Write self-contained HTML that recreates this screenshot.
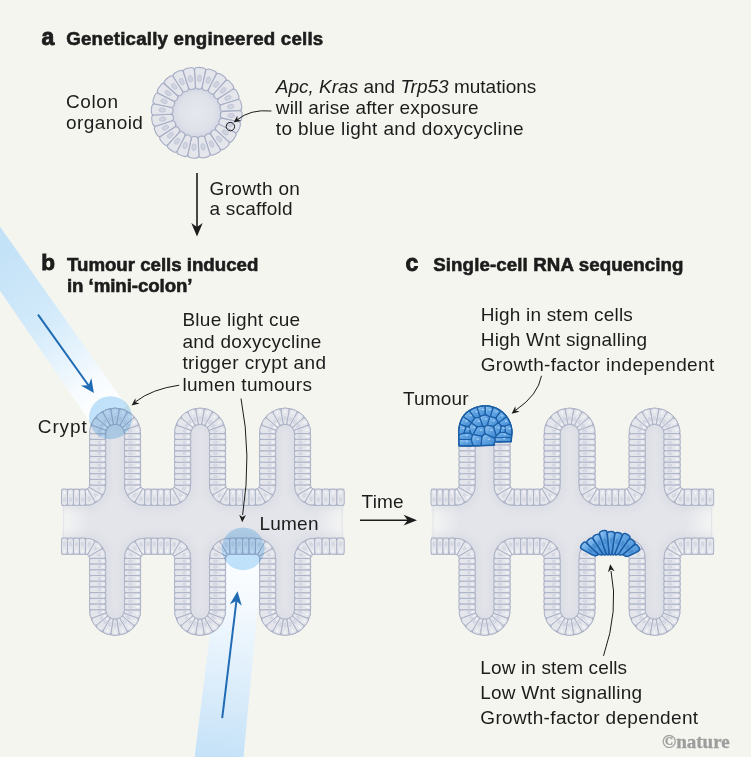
<!DOCTYPE html>
<html><head><meta charset="utf-8"><style>
html,body{margin:0;padding:0;background:#f5f5ef;font-family:"Liberation Sans", sans-serif;}
svg{display:block;}
</style></head><body>
<svg width="751" height="757" viewBox="0 0 751 757">
<defs>
<linearGradient id="lumGrad" x1="61.5" y1="0" x2="344.2" y2="0" gradientUnits="userSpaceOnUse"><stop offset="0" stop-color="#f4f4f2"/><stop offset="0.03" stop-color="#f0f1f2"/><stop offset="0.1" stop-color="#e4e5eb"/><stop offset="0.9" stop-color="#e4e5eb"/><stop offset="0.97" stop-color="#f0f1f2"/><stop offset="1" stop-color="#f4f4f2"/></linearGradient>
<clipPath id="lumClip"><path d="M61.5 497.3 L62.7 497.3 L63.89 497.3 L65.09 497.3 L66.29 497.3 L67.49 497.3 L68.69 497.3 L69.88 497.3 L71.08 497.3 L72.28 497.3 L73.47 497.3 L74.67 497.3 L75.87 497.3 L77.07 497.3 L78.26 497.3 L79.46 497.3 L80.66 497.3 L81.86 497.3 L83.05 497.3 L84.25 497.3 L85.45 497.3 L85.45 497.3 L86.41 497.26 L87.36 497.15 L88.3 496.96 L89.22 496.7 L90.12 496.37 L90.99 495.97 L91.82 495.5 L92.62 494.97 L93.37 494.38 L94.08 493.73 L94.73 493.02 L95.32 492.27 L95.85 491.47 L96.32 490.64 L96.72 489.77 L97.05 488.87 L97.31 487.95 L97.5 487.01 L97.61 486.06 L97.65 485.1 L97.65 485.1 L97.65 482.53 L97.65 479.96 L97.65 477.38 L97.65 474.81 L97.65 472.24 L97.65 469.67 L97.65 467.09 L97.65 464.52 L97.65 461.95 L97.65 459.38 L97.65 456.8 L97.65 454.23 L97.65 451.66 L97.65 449.08 L97.65 446.51 L97.65 443.94 L97.65 441.37 L97.65 438.79 L97.65 436.22 L97.65 433.65 L97.65 433.65 L97.86 430.92 L98.5 428.26 L99.55 425.73 L100.98 423.39 L102.76 421.31 L104.84 419.53 L107.18 418.1 L109.71 417.05 L112.37 416.41 L115.1 416.2 L117.83 416.41 L120.49 417.05 L123.02 418.1 L125.36 419.53 L127.44 421.31 L129.22 423.39 L130.65 425.73 L131.7 428.26 L132.34 430.92 L132.55 433.65 L132.55 433.65 L132.55 436.22 L132.55 438.79 L132.55 441.37 L132.55 443.94 L132.55 446.51 L132.55 449.08 L132.55 451.66 L132.55 454.23 L132.55 456.8 L132.55 459.38 L132.55 461.95 L132.55 464.52 L132.55 467.09 L132.55 469.67 L132.55 472.24 L132.55 474.81 L132.55 477.38 L132.55 479.96 L132.55 482.53 L132.55 485.1 L132.55 485.1 L132.59 486.06 L132.7 487.01 L132.89 487.95 L133.15 488.87 L133.48 489.77 L133.88 490.64 L134.35 491.47 L134.88 492.27 L135.47 493.02 L136.12 493.73 L136.83 494.38 L137.58 494.97 L138.38 495.5 L139.21 495.97 L140.08 496.37 L140.98 496.7 L141.9 496.96 L142.84 497.15 L143.79 497.26 L144.75 497.3 L144.75 497.3 L146.03 497.3 L147.32 497.3 L148.6 497.3 L149.89 497.3 L151.17 497.3 L152.46 497.3 L153.74 497.3 L155.03 497.3 L156.31 497.3 L157.6 497.3 L158.88 497.3 L160.17 497.3 L161.46 497.3 L162.74 497.3 L164.03 497.3 L165.31 497.3 L166.59 497.3 L167.88 497.3 L169.17 497.3 L170.45 497.3 L170.45 497.3 L171.41 497.26 L172.36 497.15 L173.3 496.96 L174.22 496.7 L175.12 496.37 L175.99 495.97 L176.82 495.5 L177.62 494.97 L178.37 494.38 L179.08 493.73 L179.73 493.02 L180.32 492.27 L180.85 491.47 L181.32 490.64 L181.72 489.77 L182.05 488.87 L182.31 487.95 L182.5 487.01 L182.61 486.06 L182.65 485.1 L182.65 485.1 L182.65 482.53 L182.65 479.96 L182.65 477.38 L182.65 474.81 L182.65 472.24 L182.65 469.67 L182.65 467.09 L182.65 464.52 L182.65 461.95 L182.65 459.38 L182.65 456.8 L182.65 454.23 L182.65 451.66 L182.65 449.08 L182.65 446.51 L182.65 443.94 L182.65 441.37 L182.65 438.79 L182.65 436.22 L182.65 433.65 L182.65 433.65 L182.86 430.92 L183.5 428.26 L184.55 425.73 L185.98 423.39 L187.76 421.31 L189.84 419.53 L192.18 418.1 L194.71 417.05 L197.37 416.41 L200.1 416.2 L202.83 416.41 L205.49 417.05 L208.02 418.1 L210.36 419.53 L212.44 421.31 L214.22 423.39 L215.65 425.73 L216.7 428.26 L217.34 430.92 L217.55 433.65 L217.55 433.65 L217.55 436.22 L217.55 438.79 L217.55 441.37 L217.55 443.94 L217.55 446.51 L217.55 449.08 L217.55 451.66 L217.55 454.23 L217.55 456.8 L217.55 459.38 L217.55 461.95 L217.55 464.52 L217.55 467.09 L217.55 469.67 L217.55 472.24 L217.55 474.81 L217.55 477.38 L217.55 479.96 L217.55 482.53 L217.55 485.1 L217.55 485.1 L217.59 486.06 L217.7 487.01 L217.89 487.95 L218.15 488.87 L218.48 489.77 L218.88 490.64 L219.35 491.47 L219.88 492.27 L220.47 493.02 L221.12 493.73 L221.83 494.38 L222.58 494.97 L223.38 495.5 L224.21 495.97 L225.08 496.37 L225.98 496.7 L226.9 496.96 L227.84 497.15 L228.79 497.26 L229.75 497.3 L229.75 497.3 L231.03 497.3 L232.32 497.3 L233.6 497.3 L234.89 497.3 L236.17 497.3 L237.46 497.3 L238.75 497.3 L240.03 497.3 L241.31 497.3 L242.6 497.3 L243.89 497.3 L245.17 497.3 L246.46 497.3 L247.74 497.3 L249.03 497.3 L250.31 497.3 L251.6 497.3 L252.88 497.3 L254.17 497.3 L255.45 497.3 L255.45 497.3 L256.41 497.26 L257.36 497.15 L258.3 496.96 L259.22 496.7 L260.12 496.37 L260.99 495.97 L261.82 495.5 L262.62 494.97 L263.37 494.38 L264.08 493.73 L264.73 493.02 L265.32 492.27 L265.85 491.47 L266.32 490.64 L266.72 489.77 L267.05 488.87 L267.31 487.95 L267.5 487.01 L267.61 486.06 L267.65 485.1 L267.65 485.1 L267.65 482.53 L267.65 479.96 L267.65 477.38 L267.65 474.81 L267.65 472.24 L267.65 469.67 L267.65 467.09 L267.65 464.52 L267.65 461.95 L267.65 459.38 L267.65 456.8 L267.65 454.23 L267.65 451.66 L267.65 449.08 L267.65 446.51 L267.65 443.94 L267.65 441.37 L267.65 438.79 L267.65 436.22 L267.65 433.65 L267.65 433.65 L267.86 430.92 L268.5 428.26 L269.55 425.73 L270.98 423.39 L272.76 421.31 L274.84 419.53 L277.18 418.1 L279.71 417.05 L282.37 416.41 L285.1 416.2 L287.83 416.41 L290.49 417.05 L293.02 418.1 L295.36 419.53 L297.44 421.31 L299.22 423.39 L300.65 425.73 L301.7 428.26 L302.34 430.92 L302.55 433.65 L302.55 433.65 L302.55 436.22 L302.55 438.79 L302.55 441.37 L302.55 443.94 L302.55 446.51 L302.55 449.08 L302.55 451.66 L302.55 454.23 L302.55 456.8 L302.55 459.38 L302.55 461.95 L302.55 464.52 L302.55 467.09 L302.55 469.67 L302.55 472.24 L302.55 474.81 L302.55 477.38 L302.55 479.96 L302.55 482.53 L302.55 485.1 L302.55 485.1 L302.59 486.06 L302.7 487.01 L302.89 487.95 L303.15 488.87 L303.48 489.77 L303.88 490.64 L304.35 491.47 L304.88 492.27 L305.47 493.02 L306.12 493.73 L306.83 494.38 L307.58 494.97 L308.38 495.5 L309.21 495.97 L310.08 496.37 L310.98 496.7 L311.9 496.96 L312.84 497.15 L313.79 497.26 L314.75 497.3 L314.75 497.3 L316.22 497.3 L317.69 497.3 L319.17 497.3 L320.64 497.3 L322.11 497.3 L323.58 497.3 L325.06 497.3 L326.53 497.3 L328 497.3 L329.48 497.3 L330.95 497.3 L332.42 497.3 L333.89 497.3 L335.37 497.3 L336.84 497.3 L338.31 497.3 L339.78 497.3 L341.25 497.3 L342.73 497.3 L344.2 497.3 L344.2 546.2 L342.73 546.2 L341.25 546.2 L339.78 546.2 L338.31 546.2 L336.84 546.2 L335.37 546.2 L333.89 546.2 L332.42 546.2 L330.95 546.2 L329.48 546.2 L328 546.2 L326.53 546.2 L325.06 546.2 L323.58 546.2 L322.11 546.2 L320.64 546.2 L319.17 546.2 L317.69 546.2 L316.22 546.2 L314.75 546.2 L314.75 546.2 L313.79 546.24 L312.84 546.35 L311.9 546.54 L310.98 546.8 L310.08 547.13 L309.21 547.53 L308.38 548 L307.58 548.53 L306.83 549.12 L306.12 549.77 L305.47 550.48 L304.88 551.23 L304.35 552.03 L303.88 552.86 L303.48 553.73 L303.15 554.63 L302.89 555.55 L302.7 556.49 L302.59 557.44 L302.55 558.4 L302.55 558.4 L302.55 560.97 L302.55 563.54 L302.55 566.12 L302.55 568.69 L302.55 571.26 L302.55 573.84 L302.55 576.41 L302.55 578.98 L302.55 581.55 L302.55 584.12 L302.55 586.7 L302.55 589.27 L302.55 591.84 L302.55 594.41 L302.55 596.99 L302.55 599.56 L302.55 602.13 L302.55 604.71 L302.55 607.28 L302.55 609.85 L302.55 609.85 L302.34 612.58 L301.7 615.24 L300.65 617.77 L299.22 620.11 L297.44 622.19 L295.36 623.97 L293.02 625.4 L290.49 626.45 L287.83 627.09 L285.1 627.3 L282.37 627.09 L279.71 626.45 L277.18 625.4 L274.84 623.97 L272.76 622.19 L270.98 620.11 L269.55 617.77 L268.5 615.24 L267.86 612.58 L267.65 609.85 L267.65 609.85 L267.65 607.28 L267.65 604.71 L267.65 602.13 L267.65 599.56 L267.65 596.99 L267.65 594.41 L267.65 591.84 L267.65 589.27 L267.65 586.7 L267.65 584.12 L267.65 581.55 L267.65 578.98 L267.65 576.41 L267.65 573.84 L267.65 571.26 L267.65 568.69 L267.65 566.12 L267.65 563.54 L267.65 560.97 L267.65 558.4 L267.65 558.4 L267.61 557.44 L267.5 556.49 L267.31 555.55 L267.05 554.63 L266.72 553.73 L266.32 552.86 L265.85 552.03 L265.32 551.23 L264.73 550.48 L264.08 549.77 L263.37 549.12 L262.62 548.53 L261.82 548 L260.99 547.53 L260.12 547.13 L259.22 546.8 L258.3 546.54 L257.36 546.35 L256.41 546.24 L255.45 546.2 L255.45 546.2 L254.17 546.2 L252.88 546.2 L251.6 546.2 L250.31 546.2 L249.03 546.2 L247.74 546.2 L246.46 546.2 L245.17 546.2 L243.89 546.2 L242.6 546.2 L241.31 546.2 L240.03 546.2 L238.75 546.2 L237.46 546.2 L236.17 546.2 L234.89 546.2 L233.6 546.2 L232.32 546.2 L231.03 546.2 L229.75 546.2 L229.75 546.2 L228.79 546.24 L227.84 546.35 L226.9 546.54 L225.98 546.8 L225.08 547.13 L224.21 547.53 L223.38 548 L222.58 548.53 L221.83 549.12 L221.12 549.77 L220.47 550.48 L219.88 551.23 L219.35 552.03 L218.88 552.86 L218.48 553.73 L218.15 554.63 L217.89 555.55 L217.7 556.49 L217.59 557.44 L217.55 558.4 L217.55 558.4 L217.55 560.97 L217.55 563.54 L217.55 566.12 L217.55 568.69 L217.55 571.26 L217.55 573.84 L217.55 576.41 L217.55 578.98 L217.55 581.55 L217.55 584.12 L217.55 586.7 L217.55 589.27 L217.55 591.84 L217.55 594.41 L217.55 596.99 L217.55 599.56 L217.55 602.13 L217.55 604.71 L217.55 607.28 L217.55 609.85 L217.55 609.85 L217.34 612.58 L216.7 615.24 L215.65 617.77 L214.22 620.11 L212.44 622.19 L210.36 623.97 L208.02 625.4 L205.49 626.45 L202.83 627.09 L200.1 627.3 L197.37 627.09 L194.71 626.45 L192.18 625.4 L189.84 623.97 L187.76 622.19 L185.98 620.11 L184.55 617.77 L183.5 615.24 L182.86 612.58 L182.65 609.85 L182.65 609.85 L182.65 607.28 L182.65 604.71 L182.65 602.13 L182.65 599.56 L182.65 596.99 L182.65 594.41 L182.65 591.84 L182.65 589.27 L182.65 586.7 L182.65 584.12 L182.65 581.55 L182.65 578.98 L182.65 576.41 L182.65 573.84 L182.65 571.26 L182.65 568.69 L182.65 566.12 L182.65 563.54 L182.65 560.97 L182.65 558.4 L182.65 558.4 L182.61 557.44 L182.5 556.49 L182.31 555.55 L182.05 554.63 L181.72 553.73 L181.32 552.86 L180.85 552.03 L180.32 551.23 L179.73 550.48 L179.08 549.77 L178.37 549.12 L177.62 548.53 L176.82 548 L175.99 547.53 L175.12 547.13 L174.22 546.8 L173.3 546.54 L172.36 546.35 L171.41 546.24 L170.45 546.2 L170.45 546.2 L169.17 546.2 L167.88 546.2 L166.59 546.2 L165.31 546.2 L164.03 546.2 L162.74 546.2 L161.46 546.2 L160.17 546.2 L158.88 546.2 L157.6 546.2 L156.31 546.2 L155.03 546.2 L153.74 546.2 L152.46 546.2 L151.17 546.2 L149.89 546.2 L148.6 546.2 L147.32 546.2 L146.03 546.2 L144.75 546.2 L144.75 546.2 L143.79 546.24 L142.84 546.35 L141.9 546.54 L140.98 546.8 L140.08 547.13 L139.21 547.53 L138.38 548 L137.58 548.53 L136.83 549.12 L136.12 549.77 L135.47 550.48 L134.88 551.23 L134.35 552.03 L133.88 552.86 L133.48 553.73 L133.15 554.63 L132.89 555.55 L132.7 556.49 L132.59 557.44 L132.55 558.4 L132.55 558.4 L132.55 560.97 L132.55 563.54 L132.55 566.12 L132.55 568.69 L132.55 571.26 L132.55 573.84 L132.55 576.41 L132.55 578.98 L132.55 581.55 L132.55 584.12 L132.55 586.7 L132.55 589.27 L132.55 591.84 L132.55 594.41 L132.55 596.99 L132.55 599.56 L132.55 602.13 L132.55 604.71 L132.55 607.28 L132.55 609.85 L132.55 609.85 L132.34 612.58 L131.7 615.24 L130.65 617.77 L129.22 620.11 L127.44 622.19 L125.36 623.97 L123.02 625.4 L120.49 626.45 L117.83 627.09 L115.1 627.3 L112.37 627.09 L109.71 626.45 L107.18 625.4 L104.84 623.97 L102.76 622.19 L100.98 620.11 L99.55 617.77 L98.5 615.24 L97.86 612.58 L97.65 609.85 L97.65 609.85 L97.65 607.28 L97.65 604.71 L97.65 602.13 L97.65 599.56 L97.65 596.99 L97.65 594.41 L97.65 591.84 L97.65 589.27 L97.65 586.7 L97.65 584.12 L97.65 581.55 L97.65 578.98 L97.65 576.41 L97.65 573.84 L97.65 571.26 L97.65 568.69 L97.65 566.12 L97.65 563.54 L97.65 560.97 L97.65 558.4 L97.65 558.4 L97.61 557.44 L97.5 556.49 L97.31 555.55 L97.05 554.63 L96.72 553.73 L96.32 552.86 L95.85 552.03 L95.32 551.23 L94.73 550.48 L94.08 549.77 L93.37 549.12 L92.62 548.53 L91.82 548 L90.99 547.53 L90.12 547.13 L89.22 546.8 L88.3 546.54 L87.36 546.35 L86.41 546.24 L85.45 546.2 L85.45 546.2 L84.25 546.2 L83.05 546.2 L81.86 546.2 L80.66 546.2 L79.46 546.2 L78.26 546.2 L77.07 546.2 L75.87 546.2 L74.67 546.2 L73.47 546.2 L72.28 546.2 L71.08 546.2 L69.88 546.2 L68.69 546.2 L67.49 546.2 L66.29 546.2 L65.09 546.2 L63.89 546.2 L62.7 546.2 L61.5 546.2Z"/></clipPath>
<filter id="blur3" x="-10%%" y="-10%%" width="120%%" height="120%%"><feGaussianBlur stdDeviation="3"/></filter>
<radialGradient id="orgLumen"><stop offset="0" stop-color="#e6e8ef"/><stop offset="0.7" stop-color="#e0e2ea"/><stop offset="1" stop-color="#d3d7e3"/></radialGradient>
<linearGradient id="beam1" x1="110.5" y1="417.7" x2="0" y2="258" gradientUnits="userSpaceOnUse"><stop offset="0" stop-color="#ffffff"/><stop offset="0.2" stop-color="#f7fbfe"/><stop offset="0.36" stop-color="#e8f4fd"/><stop offset="0.62" stop-color="#d2eafa"/><stop offset="1" stop-color="#c4e2f7"/></linearGradient>
<linearGradient id="beam2" x1="243" y1="548.6" x2="220" y2="757" gradientUnits="userSpaceOnUse"><stop offset="0" stop-color="#fdfeff"/><stop offset="0.25" stop-color="#f5fafe"/><stop offset="0.45" stop-color="#e9f4fd"/><stop offset="0.72" stop-color="#d8ebfa"/><stop offset="1" stop-color="#c5e2f8"/></linearGradient>
<g id="colTop"><g><path d="M61.5 497.3 L85.45 497.3 A12.2 12.2 0 0 0 97.65 485.1 L97.65 433.65 A17.45 17.45 0 0 1 132.55 433.65 L132.55 485.1 A12.2 12.2 0 0 0 144.75 497.3 L170.45 497.3 A12.2 12.2 0 0 0 182.65 485.1 L182.65 433.65 A17.45 17.45 0 0 1 217.55 433.65 L217.55 485.1 A12.2 12.2 0 0 0 229.75 497.3 L255.45 497.3 A12.2 12.2 0 0 0 267.65 485.1 L267.65 433.65 A17.45 17.45 0 0 1 302.55 433.65 L302.55 485.1 A12.2 12.2 0 0 0 314.75 497.3 L344.2 497.3" fill="none" stroke="#a8afc4" stroke-width="16.9"/><g fill="#e4e6ec" stroke="#adb3c7" stroke-width="1.0"><path d="M61.5 503.1Q61.5 505.1 62.86 505.33L63.13 505.37Q64.49 505.6 65.85 505.37L66.13 505.33Q67.49 505.1 67.49 503.1L67.49 491.5Q67.49 489.5 66.13 489.27L65.85 489.23Q64.49 489 63.13 489.23L62.86 489.27Q61.5 489.5 61.5 491.5Z"/><path d="M67.49 503.1Q67.49 505.1 68.85 505.33L69.12 505.37Q70.48 505.6 71.84 505.37L72.11 505.33Q73.47 505.1 73.47 503.1L73.47 491.5Q73.47 489.5 72.11 489.27L71.84 489.23Q70.48 489 69.12 489.23L68.85 489.27Q67.49 489.5 67.49 491.5Z"/><path d="M73.47 503.1Q73.47 505.1 74.84 505.33L75.11 505.37Q76.47 505.6 77.83 505.37L78.1 505.33Q79.46 505.1 79.46 503.1L79.46 491.5Q79.46 489.5 78.1 489.27L77.83 489.23Q76.47 489 75.11 489.23L74.84 489.27Q73.47 489.5 73.47 491.5Z"/><path d="M79.46 503.1Q79.46 505.1 80.82 505.33L81.1 505.37Q82.46 505.6 83.82 505.37L84.09 505.33Q85.45 505.1 85.45 503.1L85.45 491.5Q85.45 489.5 84.09 489.27L83.82 489.23Q82.46 489 81.1 489.23L80.82 489.27Q79.46 489.5 79.46 491.5Z"/><path d="M85.45 503.1Q85.45 505.1 87.45 505.03L88.76 504.98Q90.76 504.9 92.52 503.97L93.68 503.36Q95.45 502.42 94.45 500.69L88.65 490.64Q87.65 488.91 87.11 488.89L87 488.89Q86.46 488.87 86 489.15L85.91 489.21Q85.45 489.5 85.45 491.5Z"/><path d="M94.45 500.69Q95.45 502.42 97.14 501.36L98.25 500.66Q99.95 499.6 101.01 497.9L101.71 496.79Q102.77 495.1 101.04 494.1L90.99 488.3Q89.26 487.3 88.78 487.55L88.69 487.6Q88.21 487.86 87.95 488.34L87.9 488.43Q87.65 488.91 88.65 490.64Z"/><path d="M101.04 494.1Q102.77 495.1 103.71 493.33L104.32 492.17Q105.25 490.41 105.33 488.41L105.38 487.1Q105.45 485.1 103.45 485.1L91.85 485.1Q89.85 485.1 89.56 485.56L89.5 485.65Q89.22 486.11 89.24 486.65L89.24 486.76Q89.26 487.3 90.99 488.3Z"/><path d="M103.45 485.1Q105.45 485.1 105.68 483.8L105.72 483.54Q105.95 482.24 105.72 480.94L105.68 480.68Q105.45 479.38 103.45 479.38L91.85 479.38Q89.85 479.38 89.62 480.68L89.58 480.94Q89.35 482.24 89.58 483.54L89.62 483.8Q89.85 485.1 91.85 485.1Z"/><path d="M103.45 479.38Q105.45 479.38 105.68 478.08L105.72 477.82Q105.95 476.53 105.72 475.23L105.68 474.97Q105.45 473.67 103.45 473.67L91.85 473.67Q89.85 473.67 89.62 474.97L89.58 475.23Q89.35 476.53 89.58 477.82L89.62 478.08Q89.85 479.38 91.85 479.38Z"/><path d="M103.45 473.67Q105.45 473.67 105.68 472.37L105.72 472.11Q105.95 470.81 105.72 469.51L105.68 469.25Q105.45 467.95 103.45 467.95L91.85 467.95Q89.85 467.95 89.62 469.25L89.58 469.51Q89.35 470.81 89.58 472.11L89.62 472.37Q89.85 473.67 91.85 473.67Z"/><path d="M103.45 467.95Q105.45 467.95 105.68 466.65L105.72 466.39Q105.95 465.09 105.72 463.79L105.68 463.53Q105.45 462.23 103.45 462.23L91.85 462.23Q89.85 462.23 89.62 463.53L89.58 463.79Q89.35 465.09 89.58 466.39L89.62 466.65Q89.85 467.95 91.85 467.95Z"/><path d="M103.45 462.23Q105.45 462.23 105.68 460.93L105.72 460.67Q105.95 459.38 105.72 458.08L105.68 457.82Q105.45 456.52 103.45 456.52L91.85 456.52Q89.85 456.52 89.62 457.82L89.58 458.08Q89.35 459.38 89.58 460.67L89.62 460.93Q89.85 462.23 91.85 462.23Z"/><path d="M103.45 456.52Q105.45 456.52 105.68 455.22L105.72 454.96Q105.95 453.66 105.72 452.36L105.68 452.1Q105.45 450.8 103.45 450.8L91.85 450.8Q89.85 450.8 89.62 452.1L89.58 452.36Q89.35 453.66 89.58 454.96L89.62 455.22Q89.85 456.52 91.85 456.52Z"/><path d="M103.45 450.8Q105.45 450.8 105.68 449.5L105.72 449.24Q105.95 447.94 105.72 446.64L105.68 446.38Q105.45 445.08 103.45 445.08L91.85 445.08Q89.85 445.08 89.62 446.38L89.58 446.64Q89.35 447.94 89.58 449.24L89.62 449.5Q89.85 450.8 91.85 450.8Z"/><path d="M103.45 445.08Q105.45 445.08 105.68 443.78L105.72 443.52Q105.95 442.22 105.72 440.93L105.68 440.67Q105.45 439.37 103.45 439.37L91.85 439.37Q89.85 439.37 89.62 440.67L89.58 440.93Q89.35 442.22 89.58 443.52L89.62 443.78Q89.85 445.08 91.85 445.08Z"/><path d="M103.45 439.37Q105.45 439.37 105.68 438.07L105.72 437.81Q105.95 436.51 105.72 435.21L105.68 434.95Q105.45 433.65 103.45 433.65L91.85 433.65Q89.85 433.65 89.62 434.95L89.58 435.21Q89.35 436.51 89.58 437.81L89.62 438.07Q89.85 439.37 91.85 439.37Z"/><path d="M103.45 433.65Q105.45 433.65 105.74 432.93L105.8 432.78Q106.09 432.06 106.06 431.28L106.06 431.13Q106.03 430.35 104.15 429.67L93.25 425.7Q91.37 425.01 90.64 426.88L90.47 427.32Q89.74 429.18 89.79 431.18L89.8 431.65Q89.85 433.65 91.85 433.65Z"/><path d="M104.15 429.67Q106.03 430.35 106.55 429.77L106.66 429.65Q107.18 429.07 107.42 428.34L107.47 428.19Q107.71 427.45 106.18 426.16L97.29 418.71Q95.76 417.42 94.43 418.92L94.12 419.27Q92.8 420.77 92.16 422.67L92.01 423.12Q91.37 425.01 93.25 425.7Z"/><path d="M106.18 426.16Q107.71 427.45 108.39 427.08L108.53 427.01Q109.22 426.64 109.7 426.03L109.79 425.91Q110.27 425.29 109.27 423.56L103.47 413.51Q102.47 411.78 100.72 412.74L100.3 412.97Q98.55 413.92 97.3 415.49L97.01 415.86Q95.76 417.42 97.29 418.71Z"/><path d="M109.27 423.56Q110.27 425.29 111.05 425.18L111.2 425.16Q111.97 425.05 112.63 424.64L112.76 424.56Q113.42 424.15 113.08 422.18L111.06 410.75Q110.72 408.78 108.74 409.08L108.27 409.15Q106.29 409.45 104.59 410.49L104.18 410.74Q102.47 411.78 103.47 413.51Z"/><path d="M113.08 422.18Q113.42 424.15 114.19 424.31L114.34 424.34Q115.1 424.5 115.86 424.34L116.01 424.31Q116.78 424.15 117.12 422.18L119.14 410.75Q119.48 408.78 117.52 408.39L117.06 408.3Q115.1 407.9 113.14 408.3L112.68 408.39Q110.72 408.78 111.06 410.75Z"/><path d="M117.12 422.18Q116.78 424.15 117.44 424.56L117.57 424.64Q118.23 425.05 119 425.16L119.15 425.18Q119.92 425.29 120.92 423.56L126.72 413.51Q127.72 411.78 126.02 410.74L125.61 410.49Q123.91 409.45 121.93 409.15L121.46 409.08Q119.48 408.78 119.14 410.75Z"/><path d="M120.92 423.56Q119.92 425.29 120.41 425.91L120.5 426.03Q120.98 426.64 121.67 427.01L121.81 427.08Q122.49 427.45 124.02 426.16L132.91 418.71Q134.44 417.42 133.19 415.86L132.9 415.49Q131.65 413.92 129.9 412.97L129.48 412.74Q127.72 411.78 126.72 413.51Z"/><path d="M124.02 426.16Q122.49 427.45 122.73 428.19L122.78 428.34Q123.02 429.07 123.54 429.65L123.65 429.77Q124.17 430.35 126.05 429.67L136.95 425.7Q138.83 425.01 138.19 423.12L138.04 422.67Q137.4 420.77 136.08 419.27L135.77 418.92Q134.44 417.42 132.91 418.71Z"/><path d="M126.05 429.67Q124.17 430.35 124.14 431.13L124.14 431.28Q124.11 432.06 124.4 432.78L124.46 432.93Q124.75 433.65 126.75 433.65L138.35 433.65Q140.35 433.65 140.4 431.65L140.41 431.18Q140.46 429.18 139.73 427.32L139.56 426.88Q138.83 425.01 136.95 425.7Z"/><path d="M126.75 433.65Q124.75 433.65 124.52 434.95L124.48 435.21Q124.25 436.51 124.48 437.81L124.52 438.07Q124.75 439.37 126.75 439.37L138.35 439.37Q140.35 439.37 140.58 438.07L140.62 437.81Q140.85 436.51 140.62 435.21L140.58 434.95Q140.35 433.65 138.35 433.65Z"/><path d="M126.75 439.37Q124.75 439.37 124.52 440.67L124.48 440.93Q124.25 442.22 124.48 443.52L124.52 443.78Q124.75 445.08 126.75 445.08L138.35 445.08Q140.35 445.08 140.58 443.78L140.62 443.52Q140.85 442.22 140.62 440.93L140.58 440.67Q140.35 439.37 138.35 439.37Z"/><path d="M126.75 445.08Q124.75 445.08 124.52 446.38L124.48 446.64Q124.25 447.94 124.48 449.24L124.52 449.5Q124.75 450.8 126.75 450.8L138.35 450.8Q140.35 450.8 140.58 449.5L140.62 449.24Q140.85 447.94 140.62 446.64L140.58 446.38Q140.35 445.08 138.35 445.08Z"/><path d="M126.75 450.8Q124.75 450.8 124.52 452.1L124.48 452.36Q124.25 453.66 124.48 454.96L124.52 455.22Q124.75 456.52 126.75 456.52L138.35 456.52Q140.35 456.52 140.58 455.22L140.62 454.96Q140.85 453.66 140.62 452.36L140.58 452.1Q140.35 450.8 138.35 450.8Z"/><path d="M126.75 456.52Q124.75 456.52 124.52 457.82L124.48 458.08Q124.25 459.38 124.48 460.67L124.52 460.93Q124.75 462.23 126.75 462.23L138.35 462.23Q140.35 462.23 140.58 460.93L140.62 460.67Q140.85 459.38 140.62 458.08L140.58 457.82Q140.35 456.52 138.35 456.52Z"/><path d="M126.75 462.23Q124.75 462.23 124.52 463.53L124.48 463.79Q124.25 465.09 124.48 466.39L124.52 466.65Q124.75 467.95 126.75 467.95L138.35 467.95Q140.35 467.95 140.58 466.65L140.62 466.39Q140.85 465.09 140.62 463.79L140.58 463.53Q140.35 462.23 138.35 462.23Z"/><path d="M126.75 467.95Q124.75 467.95 124.52 469.25L124.48 469.51Q124.25 470.81 124.48 472.11L124.52 472.37Q124.75 473.67 126.75 473.67L138.35 473.67Q140.35 473.67 140.58 472.37L140.62 472.11Q140.85 470.81 140.62 469.51L140.58 469.25Q140.35 467.95 138.35 467.95Z"/><path d="M126.75 473.67Q124.75 473.67 124.52 474.97L124.48 475.23Q124.25 476.53 124.48 477.82L124.52 478.08Q124.75 479.38 126.75 479.38L138.35 479.38Q140.35 479.38 140.58 478.08L140.62 477.82Q140.85 476.53 140.62 475.23L140.58 474.97Q140.35 473.67 138.35 473.67Z"/><path d="M126.75 479.38Q124.75 479.38 124.52 480.68L124.48 480.94Q124.25 482.24 124.48 483.54L124.52 483.8Q124.75 485.1 126.75 485.1L138.35 485.1Q140.35 485.1 140.58 483.8L140.62 483.54Q140.85 482.24 140.62 480.94L140.58 480.68Q140.35 479.38 138.35 479.38Z"/><path d="M126.75 485.1Q124.75 485.1 124.82 487.1L124.87 488.41Q124.95 490.41 125.88 492.17L126.49 493.33Q127.43 495.1 129.16 494.1L139.21 488.3Q140.94 487.3 140.96 486.76L140.96 486.65Q140.98 486.11 140.7 485.65L140.64 485.56Q140.35 485.1 138.35 485.1Z"/><path d="M129.16 494.1Q127.43 495.1 128.49 496.79L129.19 497.9Q130.25 499.6 131.95 500.66L133.06 501.36Q134.75 502.42 135.75 500.69L141.55 490.64Q142.55 488.91 142.3 488.43L142.25 488.34Q141.99 487.86 141.51 487.6L141.42 487.55Q140.94 487.3 139.21 488.3Z"/><path d="M135.75 500.69Q134.75 502.42 136.52 503.36L137.68 503.97Q139.44 504.9 141.44 504.98L142.75 505.03Q144.75 505.1 144.75 503.1L144.75 491.5Q144.75 489.5 144.29 489.21L144.2 489.15Q143.74 488.87 143.2 488.89L143.09 488.89Q142.55 488.91 141.55 490.64Z"/><path d="M144.75 503.1Q144.75 505.1 146.21 505.33L146.5 505.37Q147.96 505.6 149.42 505.37L149.71 505.33Q151.17 505.1 151.17 503.1L151.17 491.5Q151.17 489.5 149.71 489.27L149.42 489.23Q147.96 489 146.5 489.23L146.21 489.27Q144.75 489.5 144.75 491.5Z"/><path d="M151.17 503.1Q151.17 505.1 152.64 505.33L152.93 505.37Q154.39 505.6 155.85 505.37L156.14 505.33Q157.6 505.1 157.6 503.1L157.6 491.5Q157.6 489.5 156.14 489.27L155.85 489.23Q154.39 489 152.93 489.23L152.64 489.27Q151.17 489.5 151.17 491.5Z"/><path d="M157.6 503.1Q157.6 505.1 159.06 505.33L159.35 505.37Q160.81 505.6 162.27 505.37L162.56 505.33Q164.03 505.1 164.03 503.1L164.03 491.5Q164.03 489.5 162.56 489.27L162.27 489.23Q160.81 489 159.35 489.23L159.06 489.27Q157.6 489.5 157.6 491.5Z"/><path d="M164.03 503.1Q164.03 505.1 165.49 505.33L165.78 505.37Q167.24 505.6 168.7 505.37L168.99 505.33Q170.45 505.1 170.45 503.1L170.45 491.5Q170.45 489.5 168.99 489.27L168.7 489.23Q167.24 489 165.78 489.23L165.49 489.27Q164.03 489.5 164.03 491.5Z"/><path d="M170.45 503.1Q170.45 505.1 172.45 505.03L173.76 504.98Q175.76 504.9 177.52 503.97L178.68 503.36Q180.45 502.42 179.45 500.69L173.65 490.64Q172.65 488.91 172.11 488.89L172 488.89Q171.46 488.87 171 489.15L170.91 489.21Q170.45 489.5 170.45 491.5Z"/><path d="M179.45 500.69Q180.45 502.42 182.14 501.36L183.25 500.66Q184.95 499.6 186.01 497.9L186.71 496.79Q187.77 495.1 186.04 494.1L175.99 488.3Q174.26 487.3 173.78 487.55L173.69 487.6Q173.21 487.86 172.95 488.34L172.9 488.43Q172.65 488.91 173.65 490.64Z"/><path d="M186.04 494.1Q187.77 495.1 188.71 493.33L189.32 492.17Q190.25 490.41 190.33 488.41L190.38 487.1Q190.45 485.1 188.45 485.1L176.85 485.1Q174.85 485.1 174.56 485.56L174.5 485.65Q174.22 486.11 174.24 486.65L174.24 486.76Q174.26 487.3 175.99 488.3Z"/><path d="M188.45 485.1Q190.45 485.1 190.68 483.8L190.72 483.54Q190.95 482.24 190.72 480.94L190.68 480.68Q190.45 479.38 188.45 479.38L176.85 479.38Q174.85 479.38 174.62 480.68L174.58 480.94Q174.35 482.24 174.58 483.54L174.62 483.8Q174.85 485.1 176.85 485.1Z"/><path d="M188.45 479.38Q190.45 479.38 190.68 478.08L190.72 477.82Q190.95 476.53 190.72 475.23L190.68 474.97Q190.45 473.67 188.45 473.67L176.85 473.67Q174.85 473.67 174.62 474.97L174.58 475.23Q174.35 476.53 174.58 477.82L174.62 478.08Q174.85 479.38 176.85 479.38Z"/><path d="M188.45 473.67Q190.45 473.67 190.68 472.37L190.72 472.11Q190.95 470.81 190.72 469.51L190.68 469.25Q190.45 467.95 188.45 467.95L176.85 467.95Q174.85 467.95 174.62 469.25L174.58 469.51Q174.35 470.81 174.58 472.11L174.62 472.37Q174.85 473.67 176.85 473.67Z"/><path d="M188.45 467.95Q190.45 467.95 190.68 466.65L190.72 466.39Q190.95 465.09 190.72 463.79L190.68 463.53Q190.45 462.23 188.45 462.23L176.85 462.23Q174.85 462.23 174.62 463.53L174.58 463.79Q174.35 465.09 174.58 466.39L174.62 466.65Q174.85 467.95 176.85 467.95Z"/><path d="M188.45 462.23Q190.45 462.23 190.68 460.93L190.72 460.67Q190.95 459.38 190.72 458.08L190.68 457.82Q190.45 456.52 188.45 456.52L176.85 456.52Q174.85 456.52 174.62 457.82L174.58 458.08Q174.35 459.38 174.58 460.67L174.62 460.93Q174.85 462.23 176.85 462.23Z"/><path d="M188.45 456.52Q190.45 456.52 190.68 455.22L190.72 454.96Q190.95 453.66 190.72 452.36L190.68 452.1Q190.45 450.8 188.45 450.8L176.85 450.8Q174.85 450.8 174.62 452.1L174.58 452.36Q174.35 453.66 174.58 454.96L174.62 455.22Q174.85 456.52 176.85 456.52Z"/><path d="M188.45 450.8Q190.45 450.8 190.68 449.5L190.72 449.24Q190.95 447.94 190.72 446.64L190.68 446.38Q190.45 445.08 188.45 445.08L176.85 445.08Q174.85 445.08 174.62 446.38L174.58 446.64Q174.35 447.94 174.58 449.24L174.62 449.5Q174.85 450.8 176.85 450.8Z"/><path d="M188.45 445.08Q190.45 445.08 190.68 443.78L190.72 443.52Q190.95 442.22 190.72 440.93L190.68 440.67Q190.45 439.37 188.45 439.37L176.85 439.37Q174.85 439.37 174.62 440.67L174.58 440.93Q174.35 442.22 174.58 443.52L174.62 443.78Q174.85 445.08 176.85 445.08Z"/><path d="M188.45 439.37Q190.45 439.37 190.68 438.07L190.72 437.81Q190.95 436.51 190.72 435.21L190.68 434.95Q190.45 433.65 188.45 433.65L176.85 433.65Q174.85 433.65 174.62 434.95L174.58 435.21Q174.35 436.51 174.58 437.81L174.62 438.07Q174.85 439.37 176.85 439.37Z"/><path d="M188.45 433.65Q190.45 433.65 190.74 432.93L190.8 432.78Q191.09 432.06 191.06 431.28L191.06 431.13Q191.03 430.35 189.15 429.67L178.25 425.7Q176.37 425.01 175.64 426.88L175.47 427.32Q174.74 429.18 174.79 431.18L174.8 431.65Q174.85 433.65 176.85 433.65Z"/><path d="M189.15 429.67Q191.03 430.35 191.55 429.77L191.66 429.65Q192.18 429.07 192.42 428.34L192.47 428.19Q192.71 427.45 191.18 426.16L182.29 418.71Q180.76 417.42 179.43 418.92L179.12 419.27Q177.8 420.77 177.16 422.67L177.01 423.12Q176.37 425.01 178.25 425.7Z"/><path d="M191.18 426.16Q192.71 427.45 193.39 427.08L193.53 427.01Q194.22 426.64 194.7 426.03L194.79 425.91Q195.28 425.29 194.28 423.56L188.47 413.51Q187.47 411.78 185.72 412.74L185.3 412.97Q183.55 413.92 182.3 415.49L182.01 415.86Q180.76 417.42 182.29 418.71Z"/><path d="M194.28 423.56Q195.28 425.29 196.05 425.18L196.2 425.16Q196.97 425.05 197.63 424.64L197.76 424.56Q198.42 424.15 198.08 422.18L196.06 410.75Q195.72 408.78 193.74 409.08L193.27 409.15Q191.29 409.45 189.59 410.49L189.18 410.74Q187.47 411.78 188.47 413.51Z"/><path d="M198.08 422.18Q198.42 424.15 199.19 424.31L199.34 424.34Q200.1 424.5 200.86 424.34L201.01 424.31Q201.78 424.15 202.12 422.18L204.14 410.75Q204.48 408.78 202.52 408.39L202.06 408.3Q200.1 407.9 198.14 408.3L197.68 408.39Q195.72 408.78 196.06 410.75Z"/><path d="M202.12 422.18Q201.78 424.15 202.44 424.56L202.57 424.64Q203.23 425.05 204 425.16L204.15 425.18Q204.92 425.29 205.92 423.56L211.72 413.51Q212.72 411.78 211.02 410.74L210.61 410.49Q208.91 409.45 206.93 409.15L206.46 409.08Q204.48 408.78 204.14 410.75Z"/><path d="M205.92 423.56Q204.92 425.29 205.41 425.91L205.5 426.03Q205.98 426.64 206.67 427.01L206.81 427.08Q207.49 427.45 209.02 426.16L217.91 418.71Q219.44 417.42 218.19 415.86L217.9 415.49Q216.65 413.92 214.9 412.97L214.48 412.74Q212.72 411.78 211.72 413.51Z"/><path d="M209.02 426.16Q207.49 427.45 207.73 428.19L207.78 428.34Q208.02 429.07 208.54 429.65L208.65 429.77Q209.17 430.35 211.05 429.67L221.95 425.7Q223.83 425.01 223.19 423.12L223.04 422.67Q222.4 420.77 221.08 419.27L220.77 418.92Q219.44 417.42 217.91 418.71Z"/><path d="M211.05 429.67Q209.17 430.35 209.14 431.13L209.14 431.28Q209.11 432.06 209.4 432.78L209.46 432.93Q209.75 433.65 211.75 433.65L223.35 433.65Q225.35 433.65 225.4 431.65L225.41 431.18Q225.46 429.18 224.73 427.32L224.56 426.88Q223.83 425.01 221.95 425.7Z"/><path d="M211.75 433.65Q209.75 433.65 209.52 434.95L209.48 435.21Q209.25 436.51 209.48 437.81L209.52 438.07Q209.75 439.37 211.75 439.37L223.35 439.37Q225.35 439.37 225.58 438.07L225.62 437.81Q225.85 436.51 225.62 435.21L225.58 434.95Q225.35 433.65 223.35 433.65Z"/><path d="M211.75 439.37Q209.75 439.37 209.52 440.67L209.48 440.93Q209.25 442.22 209.48 443.52L209.52 443.78Q209.75 445.08 211.75 445.08L223.35 445.08Q225.35 445.08 225.58 443.78L225.62 443.52Q225.85 442.22 225.62 440.93L225.58 440.67Q225.35 439.37 223.35 439.37Z"/><path d="M211.75 445.08Q209.75 445.08 209.52 446.38L209.48 446.64Q209.25 447.94 209.48 449.24L209.52 449.5Q209.75 450.8 211.75 450.8L223.35 450.8Q225.35 450.8 225.58 449.5L225.62 449.24Q225.85 447.94 225.62 446.64L225.58 446.38Q225.35 445.08 223.35 445.08Z"/><path d="M211.75 450.8Q209.75 450.8 209.52 452.1L209.48 452.36Q209.25 453.66 209.48 454.96L209.52 455.22Q209.75 456.52 211.75 456.52L223.35 456.52Q225.35 456.52 225.58 455.22L225.62 454.96Q225.85 453.66 225.62 452.36L225.58 452.1Q225.35 450.8 223.35 450.8Z"/><path d="M211.75 456.52Q209.75 456.52 209.52 457.82L209.48 458.08Q209.25 459.38 209.48 460.67L209.52 460.93Q209.75 462.23 211.75 462.23L223.35 462.23Q225.35 462.23 225.58 460.93L225.62 460.67Q225.85 459.38 225.62 458.08L225.58 457.82Q225.35 456.52 223.35 456.52Z"/><path d="M211.75 462.23Q209.75 462.23 209.52 463.53L209.48 463.79Q209.25 465.09 209.48 466.39L209.52 466.65Q209.75 467.95 211.75 467.95L223.35 467.95Q225.35 467.95 225.58 466.65L225.62 466.39Q225.85 465.09 225.62 463.79L225.58 463.53Q225.35 462.23 223.35 462.23Z"/><path d="M211.75 467.95Q209.75 467.95 209.52 469.25L209.48 469.51Q209.25 470.81 209.48 472.11L209.52 472.37Q209.75 473.67 211.75 473.67L223.35 473.67Q225.35 473.67 225.58 472.37L225.62 472.11Q225.85 470.81 225.62 469.51L225.58 469.25Q225.35 467.95 223.35 467.95Z"/><path d="M211.75 473.67Q209.75 473.67 209.52 474.97L209.48 475.23Q209.25 476.53 209.48 477.82L209.52 478.08Q209.75 479.38 211.75 479.38L223.35 479.38Q225.35 479.38 225.58 478.08L225.62 477.82Q225.85 476.53 225.62 475.23L225.58 474.97Q225.35 473.67 223.35 473.67Z"/><path d="M211.75 479.38Q209.75 479.38 209.52 480.68L209.48 480.94Q209.25 482.24 209.48 483.54L209.52 483.8Q209.75 485.1 211.75 485.1L223.35 485.1Q225.35 485.1 225.58 483.8L225.62 483.54Q225.85 482.24 225.62 480.94L225.58 480.68Q225.35 479.38 223.35 479.38Z"/><path d="M211.75 485.1Q209.75 485.1 209.82 487.1L209.87 488.41Q209.95 490.41 210.88 492.17L211.49 493.33Q212.43 495.1 214.16 494.1L224.21 488.3Q225.94 487.3 225.96 486.76L225.96 486.65Q225.98 486.11 225.7 485.65L225.64 485.56Q225.35 485.1 223.35 485.1Z"/><path d="M214.16 494.1Q212.43 495.1 213.49 496.79L214.19 497.9Q215.25 499.6 216.95 500.66L218.06 501.36Q219.75 502.42 220.75 500.69L226.55 490.64Q227.55 488.91 227.3 488.43L227.25 488.34Q226.99 487.86 226.51 487.6L226.42 487.55Q225.94 487.3 224.21 488.3Z"/><path d="M220.75 500.69Q219.75 502.42 221.52 503.36L222.68 503.97Q224.44 504.9 226.44 504.98L227.75 505.03Q229.75 505.1 229.75 503.1L229.75 491.5Q229.75 489.5 229.29 489.21L229.2 489.15Q228.74 488.87 228.2 488.89L228.09 488.89Q227.55 488.91 226.55 490.64Z"/><path d="M229.75 503.1Q229.75 505.1 231.21 505.33L231.5 505.37Q232.96 505.6 234.42 505.37L234.71 505.33Q236.17 505.1 236.17 503.1L236.17 491.5Q236.17 489.5 234.71 489.27L234.42 489.23Q232.96 489 231.5 489.23L231.21 489.27Q229.75 489.5 229.75 491.5Z"/><path d="M236.17 503.1Q236.17 505.1 237.64 505.33L237.93 505.37Q239.39 505.6 240.85 505.37L241.14 505.33Q242.6 505.1 242.6 503.1L242.6 491.5Q242.6 489.5 241.14 489.27L240.85 489.23Q239.39 489 237.93 489.23L237.64 489.27Q236.17 489.5 236.17 491.5Z"/><path d="M242.6 503.1Q242.6 505.1 244.06 505.33L244.35 505.37Q245.81 505.6 247.27 505.37L247.56 505.33Q249.03 505.1 249.03 503.1L249.03 491.5Q249.03 489.5 247.56 489.27L247.27 489.23Q245.81 489 244.35 489.23L244.06 489.27Q242.6 489.5 242.6 491.5Z"/><path d="M249.03 503.1Q249.03 505.1 250.49 505.33L250.78 505.37Q252.24 505.6 253.7 505.37L253.99 505.33Q255.45 505.1 255.45 503.1L255.45 491.5Q255.45 489.5 253.99 489.27L253.7 489.23Q252.24 489 250.78 489.23L250.49 489.27Q249.03 489.5 249.03 491.5Z"/><path d="M255.45 503.1Q255.45 505.1 257.45 505.03L258.76 504.98Q260.76 504.9 262.52 503.97L263.68 503.36Q265.45 502.42 264.45 500.69L258.65 490.64Q257.65 488.91 257.11 488.89L257 488.89Q256.46 488.87 256 489.15L255.91 489.21Q255.45 489.5 255.45 491.5Z"/><path d="M264.45 500.69Q265.45 502.42 267.14 501.36L268.25 500.66Q269.95 499.6 271.01 497.9L271.71 496.79Q272.77 495.1 271.04 494.1L260.99 488.3Q259.26 487.3 258.78 487.55L258.69 487.6Q258.21 487.86 257.95 488.34L257.9 488.43Q257.65 488.91 258.65 490.64Z"/><path d="M271.04 494.1Q272.77 495.1 273.71 493.33L274.32 492.17Q275.25 490.41 275.33 488.41L275.38 487.1Q275.45 485.1 273.45 485.1L261.85 485.1Q259.85 485.1 259.56 485.56L259.5 485.65Q259.22 486.11 259.24 486.65L259.24 486.76Q259.26 487.3 260.99 488.3Z"/><path d="M273.45 485.1Q275.45 485.1 275.68 483.8L275.72 483.54Q275.95 482.24 275.72 480.94L275.68 480.68Q275.45 479.38 273.45 479.38L261.85 479.38Q259.85 479.38 259.62 480.68L259.58 480.94Q259.35 482.24 259.58 483.54L259.62 483.8Q259.85 485.1 261.85 485.1Z"/><path d="M273.45 479.38Q275.45 479.38 275.68 478.08L275.72 477.82Q275.95 476.53 275.72 475.23L275.68 474.97Q275.45 473.67 273.45 473.67L261.85 473.67Q259.85 473.67 259.62 474.97L259.58 475.23Q259.35 476.53 259.58 477.82L259.62 478.08Q259.85 479.38 261.85 479.38Z"/><path d="M273.45 473.67Q275.45 473.67 275.68 472.37L275.72 472.11Q275.95 470.81 275.72 469.51L275.68 469.25Q275.45 467.95 273.45 467.95L261.85 467.95Q259.85 467.95 259.62 469.25L259.58 469.51Q259.35 470.81 259.58 472.11L259.62 472.37Q259.85 473.67 261.85 473.67Z"/><path d="M273.45 467.95Q275.45 467.95 275.68 466.65L275.72 466.39Q275.95 465.09 275.72 463.79L275.68 463.53Q275.45 462.23 273.45 462.23L261.85 462.23Q259.85 462.23 259.62 463.53L259.58 463.79Q259.35 465.09 259.58 466.39L259.62 466.65Q259.85 467.95 261.85 467.95Z"/><path d="M273.45 462.23Q275.45 462.23 275.68 460.93L275.72 460.67Q275.95 459.38 275.72 458.08L275.68 457.82Q275.45 456.52 273.45 456.52L261.85 456.52Q259.85 456.52 259.62 457.82L259.58 458.08Q259.35 459.38 259.58 460.67L259.62 460.93Q259.85 462.23 261.85 462.23Z"/><path d="M273.45 456.52Q275.45 456.52 275.68 455.22L275.72 454.96Q275.95 453.66 275.72 452.36L275.68 452.1Q275.45 450.8 273.45 450.8L261.85 450.8Q259.85 450.8 259.62 452.1L259.58 452.36Q259.35 453.66 259.58 454.96L259.62 455.22Q259.85 456.52 261.85 456.52Z"/><path d="M273.45 450.8Q275.45 450.8 275.68 449.5L275.72 449.24Q275.95 447.94 275.72 446.64L275.68 446.38Q275.45 445.08 273.45 445.08L261.85 445.08Q259.85 445.08 259.62 446.38L259.58 446.64Q259.35 447.94 259.58 449.24L259.62 449.5Q259.85 450.8 261.85 450.8Z"/><path d="M273.45 445.08Q275.45 445.08 275.68 443.78L275.72 443.52Q275.95 442.22 275.72 440.93L275.68 440.67Q275.45 439.37 273.45 439.37L261.85 439.37Q259.85 439.37 259.62 440.67L259.58 440.93Q259.35 442.22 259.58 443.52L259.62 443.78Q259.85 445.08 261.85 445.08Z"/><path d="M273.45 439.37Q275.45 439.37 275.68 438.07L275.72 437.81Q275.95 436.51 275.72 435.21L275.68 434.95Q275.45 433.65 273.45 433.65L261.85 433.65Q259.85 433.65 259.62 434.95L259.58 435.21Q259.35 436.51 259.58 437.81L259.62 438.07Q259.85 439.37 261.85 439.37Z"/><path d="M273.45 433.65Q275.45 433.65 275.74 432.93L275.8 432.78Q276.09 432.06 276.06 431.28L276.06 431.13Q276.03 430.35 274.15 429.67L263.25 425.7Q261.37 425.01 260.64 426.88L260.47 427.32Q259.74 429.18 259.79 431.18L259.8 431.65Q259.85 433.65 261.85 433.65Z"/><path d="M274.15 429.67Q276.03 430.35 276.55 429.77L276.66 429.65Q277.18 429.07 277.42 428.34L277.47 428.19Q277.71 427.45 276.18 426.16L267.29 418.71Q265.76 417.42 264.43 418.92L264.12 419.27Q262.8 420.77 262.16 422.67L262.01 423.12Q261.37 425.01 263.25 425.7Z"/><path d="M276.18 426.16Q277.71 427.45 278.39 427.08L278.53 427.01Q279.22 426.64 279.7 426.03L279.79 425.91Q280.27 425.29 279.27 423.56L273.48 413.51Q272.48 411.78 270.72 412.74L270.3 412.97Q268.55 413.92 267.3 415.49L267.01 415.86Q265.76 417.42 267.29 418.71Z"/><path d="M279.27 423.56Q280.27 425.29 281.05 425.18L281.2 425.16Q281.97 425.05 282.63 424.64L282.76 424.56Q283.42 424.15 283.08 422.18L281.06 410.75Q280.72 408.78 278.74 409.08L278.27 409.15Q276.29 409.45 274.59 410.49L274.18 410.74Q272.48 411.78 273.48 413.51Z"/><path d="M283.08 422.18Q283.42 424.15 284.19 424.31L284.34 424.34Q285.1 424.5 285.86 424.34L286.01 424.31Q286.78 424.15 287.12 422.18L289.14 410.75Q289.48 408.78 287.52 408.39L287.06 408.3Q285.1 407.9 283.14 408.3L282.68 408.39Q280.72 408.78 281.06 410.75Z"/><path d="M287.12 422.18Q286.78 424.15 287.44 424.56L287.57 424.64Q288.23 425.05 289 425.16L289.15 425.18Q289.93 425.29 290.93 423.56L296.72 413.51Q297.72 411.78 296.02 410.74L295.61 410.49Q293.91 409.45 291.93 409.15L291.46 409.08Q289.48 408.78 289.14 410.75Z"/><path d="M290.93 423.56Q289.93 425.29 290.41 425.91L290.5 426.03Q290.98 426.64 291.67 427.01L291.81 427.08Q292.49 427.45 294.02 426.16L302.91 418.71Q304.44 417.42 303.19 415.86L302.9 415.49Q301.65 413.92 299.9 412.97L299.48 412.74Q297.72 411.78 296.72 413.51Z"/><path d="M294.02 426.16Q292.49 427.45 292.73 428.19L292.78 428.34Q293.02 429.07 293.54 429.65L293.65 429.77Q294.17 430.35 296.05 429.67L306.95 425.7Q308.83 425.01 308.19 423.12L308.04 422.67Q307.4 420.77 306.08 419.27L305.77 418.92Q304.44 417.42 302.91 418.71Z"/><path d="M296.05 429.67Q294.17 430.35 294.14 431.13L294.14 431.28Q294.11 432.06 294.4 432.78L294.46 432.93Q294.75 433.65 296.75 433.65L308.35 433.65Q310.35 433.65 310.4 431.65L310.41 431.18Q310.46 429.18 309.73 427.32L309.56 426.88Q308.83 425.01 306.95 425.7Z"/><path d="M296.75 433.65Q294.75 433.65 294.52 434.95L294.48 435.21Q294.25 436.51 294.48 437.81L294.52 438.07Q294.75 439.37 296.75 439.37L308.35 439.37Q310.35 439.37 310.58 438.07L310.62 437.81Q310.85 436.51 310.62 435.21L310.58 434.95Q310.35 433.65 308.35 433.65Z"/><path d="M296.75 439.37Q294.75 439.37 294.52 440.67L294.48 440.93Q294.25 442.22 294.48 443.52L294.52 443.78Q294.75 445.08 296.75 445.08L308.35 445.08Q310.35 445.08 310.58 443.78L310.62 443.52Q310.85 442.22 310.62 440.93L310.58 440.67Q310.35 439.37 308.35 439.37Z"/><path d="M296.75 445.08Q294.75 445.08 294.52 446.38L294.48 446.64Q294.25 447.94 294.48 449.24L294.52 449.5Q294.75 450.8 296.75 450.8L308.35 450.8Q310.35 450.8 310.58 449.5L310.62 449.24Q310.85 447.94 310.62 446.64L310.58 446.38Q310.35 445.08 308.35 445.08Z"/><path d="M296.75 450.8Q294.75 450.8 294.52 452.1L294.48 452.36Q294.25 453.66 294.48 454.96L294.52 455.22Q294.75 456.52 296.75 456.52L308.35 456.52Q310.35 456.52 310.58 455.22L310.62 454.96Q310.85 453.66 310.62 452.36L310.58 452.1Q310.35 450.8 308.35 450.8Z"/><path d="M296.75 456.52Q294.75 456.52 294.52 457.82L294.48 458.08Q294.25 459.38 294.48 460.67L294.52 460.93Q294.75 462.23 296.75 462.23L308.35 462.23Q310.35 462.23 310.58 460.93L310.62 460.67Q310.85 459.38 310.62 458.08L310.58 457.82Q310.35 456.52 308.35 456.52Z"/><path d="M296.75 462.23Q294.75 462.23 294.52 463.53L294.48 463.79Q294.25 465.09 294.48 466.39L294.52 466.65Q294.75 467.95 296.75 467.95L308.35 467.95Q310.35 467.95 310.58 466.65L310.62 466.39Q310.85 465.09 310.62 463.79L310.58 463.53Q310.35 462.23 308.35 462.23Z"/><path d="M296.75 467.95Q294.75 467.95 294.52 469.25L294.48 469.51Q294.25 470.81 294.48 472.11L294.52 472.37Q294.75 473.67 296.75 473.67L308.35 473.67Q310.35 473.67 310.58 472.37L310.62 472.11Q310.85 470.81 310.62 469.51L310.58 469.25Q310.35 467.95 308.35 467.95Z"/><path d="M296.75 473.67Q294.75 473.67 294.52 474.97L294.48 475.23Q294.25 476.53 294.48 477.82L294.52 478.08Q294.75 479.38 296.75 479.38L308.35 479.38Q310.35 479.38 310.58 478.08L310.62 477.82Q310.85 476.53 310.62 475.23L310.58 474.97Q310.35 473.67 308.35 473.67Z"/><path d="M296.75 479.38Q294.75 479.38 294.52 480.68L294.48 480.94Q294.25 482.24 294.48 483.54L294.52 483.8Q294.75 485.1 296.75 485.1L308.35 485.1Q310.35 485.1 310.58 483.8L310.62 483.54Q310.85 482.24 310.62 480.94L310.58 480.68Q310.35 479.38 308.35 479.38Z"/><path d="M296.75 485.1Q294.75 485.1 294.82 487.1L294.87 488.41Q294.95 490.41 295.88 492.17L296.49 493.33Q297.43 495.1 299.16 494.1L309.21 488.3Q310.94 487.3 310.96 486.76L310.96 486.65Q310.98 486.11 310.7 485.65L310.64 485.56Q310.35 485.1 308.35 485.1Z"/><path d="M299.16 494.1Q297.43 495.1 298.49 496.79L299.19 497.9Q300.25 499.6 301.95 500.66L303.06 501.36Q304.75 502.42 305.75 500.69L311.55 490.64Q312.55 488.91 312.3 488.43L312.25 488.34Q311.99 487.86 311.51 487.6L311.42 487.55Q310.94 487.3 309.21 488.3Z"/><path d="M305.75 500.69Q304.75 502.42 306.52 503.36L307.68 503.97Q309.44 504.9 311.44 504.98L312.75 505.03Q314.75 505.1 314.75 503.1L314.75 491.5Q314.75 489.5 314.29 489.21L314.2 489.15Q313.74 488.87 313.2 488.89L313.09 488.89Q312.55 488.91 311.55 490.64Z"/><path d="M314.75 503.1Q314.75 505.1 316.42 505.33L316.76 505.37Q318.43 505.6 320.1 505.37L320.44 505.33Q322.11 505.1 322.11 503.1L322.11 491.5Q322.11 489.5 320.44 489.27L320.1 489.23Q318.43 489 316.76 489.23L316.42 489.27Q314.75 489.5 314.75 491.5Z"/><path d="M322.11 503.1Q322.11 505.1 323.79 505.33L324.12 505.37Q325.79 505.6 327.47 505.37L327.8 505.33Q329.48 505.1 329.48 503.1L329.48 491.5Q329.48 489.5 327.8 489.27L327.47 489.23Q325.79 489 324.12 489.23L323.79 489.27Q322.11 489.5 322.11 491.5Z"/><path d="M329.48 503.1Q329.48 505.1 331.15 505.33L331.48 505.37Q333.16 505.6 334.83 505.37L335.16 505.33Q336.84 505.1 336.84 503.1L336.84 491.5Q336.84 489.5 335.16 489.27L334.83 489.23Q333.16 489 331.48 489.23L331.15 489.27Q329.48 489.5 329.48 491.5Z"/><path d="M336.84 503.1Q336.84 505.1 338.51 505.33L338.85 505.37Q340.52 505.6 342.19 505.37L342.53 505.33Q344.2 505.1 344.2 503.1L344.2 491.5Q344.2 489.5 342.53 489.27L342.19 489.23Q340.52 489 338.85 489.23L338.51 489.27Q336.84 489.5 336.84 491.5Z"/></g><g fill="#dbdee7" stroke="#c2c7d7" stroke-width="0.5"><ellipse cx="64.49" cy="499.5" rx="2" ry="1.2" transform="rotate(90 64.49 499.5)"/><ellipse cx="70.48" cy="499.5" rx="2" ry="1.2" transform="rotate(90 70.48 499.5)"/><ellipse cx="76.47" cy="499.5" rx="2" ry="1.2" transform="rotate(90 76.47 499.5)"/><ellipse cx="82.46" cy="499.5" rx="2" ry="1.2" transform="rotate(90 82.46 499.5)"/><ellipse cx="89.18" cy="499.01" rx="2" ry="1.2" transform="rotate(75 89.18 499.01)"/><ellipse cx="95.63" cy="495.28" rx="2" ry="1.2" transform="rotate(45 95.63 495.28)"/><ellipse cx="99.36" cy="488.83" rx="2" ry="1.2" transform="rotate(15 99.36 488.83)"/><ellipse cx="99.85" cy="482.24" rx="2" ry="1.2" transform="rotate(0 99.85 482.24)"/><ellipse cx="99.85" cy="476.53" rx="2" ry="1.2" transform="rotate(0 99.85 476.53)"/><ellipse cx="99.85" cy="470.81" rx="2" ry="1.2" transform="rotate(0 99.85 470.81)"/><ellipse cx="99.85" cy="465.09" rx="2" ry="1.2" transform="rotate(0 99.85 465.09)"/><ellipse cx="99.85" cy="459.38" rx="2" ry="1.2" transform="rotate(0 99.85 459.38)"/><ellipse cx="99.85" cy="453.66" rx="2" ry="1.2" transform="rotate(0 99.85 453.66)"/><ellipse cx="99.85" cy="447.94" rx="2" ry="1.2" transform="rotate(0 99.85 447.94)"/><ellipse cx="99.85" cy="442.22" rx="2" ry="1.2" transform="rotate(0 99.85 442.22)"/><ellipse cx="99.85" cy="436.51" rx="2" ry="1.2" transform="rotate(0 99.85 436.51)"/><ellipse cx="100.08" cy="431" rx="2" ry="1.2" transform="rotate(10 100.08 431)"/><ellipse cx="101.89" cy="426.02" rx="2" ry="1.2" transform="rotate(30 101.89 426.02)"/><ellipse cx="105.3" cy="421.97" rx="2" ry="1.2" transform="rotate(50 105.3 421.97)"/><ellipse cx="109.88" cy="419.32" rx="2" ry="1.2" transform="rotate(70 109.88 419.32)"/><ellipse cx="115.1" cy="418.4" rx="2" ry="1.2" transform="rotate(90 115.1 418.4)"/><ellipse cx="120.32" cy="419.32" rx="2" ry="1.2" transform="rotate(110 120.32 419.32)"/><ellipse cx="124.9" cy="421.97" rx="2" ry="1.2" transform="rotate(130 124.9 421.97)"/><ellipse cx="128.31" cy="426.02" rx="2" ry="1.2" transform="rotate(150 128.31 426.02)"/><ellipse cx="130.12" cy="431" rx="2" ry="1.2" transform="rotate(170 130.12 431)"/><ellipse cx="130.35" cy="436.51" rx="2" ry="1.2" transform="rotate(180 130.35 436.51)"/><ellipse cx="130.35" cy="442.22" rx="2" ry="1.2" transform="rotate(180 130.35 442.22)"/><ellipse cx="130.35" cy="447.94" rx="2" ry="1.2" transform="rotate(180 130.35 447.94)"/><ellipse cx="130.35" cy="453.66" rx="2" ry="1.2" transform="rotate(180 130.35 453.66)"/><ellipse cx="130.35" cy="459.38" rx="2" ry="1.2" transform="rotate(180 130.35 459.38)"/><ellipse cx="130.35" cy="465.09" rx="2" ry="1.2" transform="rotate(180 130.35 465.09)"/><ellipse cx="130.35" cy="470.81" rx="2" ry="1.2" transform="rotate(180 130.35 470.81)"/><ellipse cx="130.35" cy="476.53" rx="2" ry="1.2" transform="rotate(180 130.35 476.53)"/><ellipse cx="130.35" cy="482.24" rx="2" ry="1.2" transform="rotate(180 130.35 482.24)"/><ellipse cx="130.84" cy="488.83" rx="2" ry="1.2" transform="rotate(165 130.84 488.83)"/><ellipse cx="134.57" cy="495.28" rx="2" ry="1.2" transform="rotate(135 134.57 495.28)"/><ellipse cx="141.02" cy="499.01" rx="2" ry="1.2" transform="rotate(105 141.02 499.01)"/><ellipse cx="147.96" cy="499.5" rx="2" ry="1.2" transform="rotate(90 147.96 499.5)"/><ellipse cx="154.39" cy="499.5" rx="2" ry="1.2" transform="rotate(90 154.39 499.5)"/><ellipse cx="160.81" cy="499.5" rx="2" ry="1.2" transform="rotate(90 160.81 499.5)"/><ellipse cx="167.24" cy="499.5" rx="2" ry="1.2" transform="rotate(90 167.24 499.5)"/><ellipse cx="174.18" cy="499.01" rx="2" ry="1.2" transform="rotate(75 174.18 499.01)"/><ellipse cx="180.63" cy="495.28" rx="2" ry="1.2" transform="rotate(45 180.63 495.28)"/><ellipse cx="184.36" cy="488.83" rx="2" ry="1.2" transform="rotate(15 184.36 488.83)"/><ellipse cx="184.85" cy="482.24" rx="2" ry="1.2" transform="rotate(0 184.85 482.24)"/><ellipse cx="184.85" cy="476.53" rx="2" ry="1.2" transform="rotate(0 184.85 476.53)"/><ellipse cx="184.85" cy="470.81" rx="2" ry="1.2" transform="rotate(0 184.85 470.81)"/><ellipse cx="184.85" cy="465.09" rx="2" ry="1.2" transform="rotate(0 184.85 465.09)"/><ellipse cx="184.85" cy="459.38" rx="2" ry="1.2" transform="rotate(0 184.85 459.38)"/><ellipse cx="184.85" cy="453.66" rx="2" ry="1.2" transform="rotate(0 184.85 453.66)"/><ellipse cx="184.85" cy="447.94" rx="2" ry="1.2" transform="rotate(0 184.85 447.94)"/><ellipse cx="184.85" cy="442.22" rx="2" ry="1.2" transform="rotate(0 184.85 442.22)"/><ellipse cx="184.85" cy="436.51" rx="2" ry="1.2" transform="rotate(0 184.85 436.51)"/><ellipse cx="185.08" cy="431" rx="2" ry="1.2" transform="rotate(10 185.08 431)"/><ellipse cx="186.89" cy="426.02" rx="2" ry="1.2" transform="rotate(30 186.89 426.02)"/><ellipse cx="190.3" cy="421.97" rx="2" ry="1.2" transform="rotate(50 190.3 421.97)"/><ellipse cx="194.88" cy="419.32" rx="2" ry="1.2" transform="rotate(70 194.88 419.32)"/><ellipse cx="200.1" cy="418.4" rx="2" ry="1.2" transform="rotate(90 200.1 418.4)"/><ellipse cx="205.32" cy="419.32" rx="2" ry="1.2" transform="rotate(110 205.32 419.32)"/><ellipse cx="209.9" cy="421.97" rx="2" ry="1.2" transform="rotate(130 209.9 421.97)"/><ellipse cx="213.31" cy="426.02" rx="2" ry="1.2" transform="rotate(150 213.31 426.02)"/><ellipse cx="215.12" cy="431" rx="2" ry="1.2" transform="rotate(170 215.12 431)"/><ellipse cx="215.35" cy="436.51" rx="2" ry="1.2" transform="rotate(180 215.35 436.51)"/><ellipse cx="215.35" cy="442.22" rx="2" ry="1.2" transform="rotate(180 215.35 442.22)"/><ellipse cx="215.35" cy="447.94" rx="2" ry="1.2" transform="rotate(180 215.35 447.94)"/><ellipse cx="215.35" cy="453.66" rx="2" ry="1.2" transform="rotate(180 215.35 453.66)"/><ellipse cx="215.35" cy="459.38" rx="2" ry="1.2" transform="rotate(180 215.35 459.38)"/><ellipse cx="215.35" cy="465.09" rx="2" ry="1.2" transform="rotate(180 215.35 465.09)"/><ellipse cx="215.35" cy="470.81" rx="2" ry="1.2" transform="rotate(180 215.35 470.81)"/><ellipse cx="215.35" cy="476.53" rx="2" ry="1.2" transform="rotate(180 215.35 476.53)"/><ellipse cx="215.35" cy="482.24" rx="2" ry="1.2" transform="rotate(180 215.35 482.24)"/><ellipse cx="215.84" cy="488.83" rx="2" ry="1.2" transform="rotate(165 215.84 488.83)"/><ellipse cx="219.57" cy="495.28" rx="2" ry="1.2" transform="rotate(135 219.57 495.28)"/><ellipse cx="226.02" cy="499.01" rx="2" ry="1.2" transform="rotate(105 226.02 499.01)"/><ellipse cx="232.96" cy="499.5" rx="2" ry="1.2" transform="rotate(90 232.96 499.5)"/><ellipse cx="239.39" cy="499.5" rx="2" ry="1.2" transform="rotate(90 239.39 499.5)"/><ellipse cx="245.81" cy="499.5" rx="2" ry="1.2" transform="rotate(90 245.81 499.5)"/><ellipse cx="252.24" cy="499.5" rx="2" ry="1.2" transform="rotate(90 252.24 499.5)"/><ellipse cx="259.18" cy="499.01" rx="2" ry="1.2" transform="rotate(75 259.18 499.01)"/><ellipse cx="265.63" cy="495.28" rx="2" ry="1.2" transform="rotate(45 265.63 495.28)"/><ellipse cx="269.36" cy="488.83" rx="2" ry="1.2" transform="rotate(15 269.36 488.83)"/><ellipse cx="269.85" cy="482.24" rx="2" ry="1.2" transform="rotate(0 269.85 482.24)"/><ellipse cx="269.85" cy="476.53" rx="2" ry="1.2" transform="rotate(0 269.85 476.53)"/><ellipse cx="269.85" cy="470.81" rx="2" ry="1.2" transform="rotate(0 269.85 470.81)"/><ellipse cx="269.85" cy="465.09" rx="2" ry="1.2" transform="rotate(0 269.85 465.09)"/><ellipse cx="269.85" cy="459.38" rx="2" ry="1.2" transform="rotate(0 269.85 459.38)"/><ellipse cx="269.85" cy="453.66" rx="2" ry="1.2" transform="rotate(0 269.85 453.66)"/><ellipse cx="269.85" cy="447.94" rx="2" ry="1.2" transform="rotate(0 269.85 447.94)"/><ellipse cx="269.85" cy="442.22" rx="2" ry="1.2" transform="rotate(0 269.85 442.22)"/><ellipse cx="269.85" cy="436.51" rx="2" ry="1.2" transform="rotate(0 269.85 436.51)"/><ellipse cx="270.08" cy="431" rx="2" ry="1.2" transform="rotate(10 270.08 431)"/><ellipse cx="271.89" cy="426.02" rx="2" ry="1.2" transform="rotate(30 271.89 426.02)"/><ellipse cx="275.3" cy="421.97" rx="2" ry="1.2" transform="rotate(50 275.3 421.97)"/><ellipse cx="279.88" cy="419.32" rx="2" ry="1.2" transform="rotate(70 279.88 419.32)"/><ellipse cx="285.1" cy="418.4" rx="2" ry="1.2" transform="rotate(90 285.1 418.4)"/><ellipse cx="290.32" cy="419.32" rx="2" ry="1.2" transform="rotate(110 290.32 419.32)"/><ellipse cx="294.9" cy="421.97" rx="2" ry="1.2" transform="rotate(130 294.9 421.97)"/><ellipse cx="298.31" cy="426.02" rx="2" ry="1.2" transform="rotate(150 298.31 426.02)"/><ellipse cx="300.12" cy="431" rx="2" ry="1.2" transform="rotate(170 300.12 431)"/><ellipse cx="300.35" cy="436.51" rx="2" ry="1.2" transform="rotate(180 300.35 436.51)"/><ellipse cx="300.35" cy="442.22" rx="2" ry="1.2" transform="rotate(180 300.35 442.22)"/><ellipse cx="300.35" cy="447.94" rx="2" ry="1.2" transform="rotate(180 300.35 447.94)"/><ellipse cx="300.35" cy="453.66" rx="2" ry="1.2" transform="rotate(180 300.35 453.66)"/><ellipse cx="300.35" cy="459.38" rx="2" ry="1.2" transform="rotate(180 300.35 459.38)"/><ellipse cx="300.35" cy="465.09" rx="2" ry="1.2" transform="rotate(180 300.35 465.09)"/><ellipse cx="300.35" cy="470.81" rx="2" ry="1.2" transform="rotate(180 300.35 470.81)"/><ellipse cx="300.35" cy="476.53" rx="2" ry="1.2" transform="rotate(180 300.35 476.53)"/><ellipse cx="300.35" cy="482.24" rx="2" ry="1.2" transform="rotate(180 300.35 482.24)"/><ellipse cx="300.84" cy="488.83" rx="2" ry="1.2" transform="rotate(165 300.84 488.83)"/><ellipse cx="304.57" cy="495.28" rx="2" ry="1.2" transform="rotate(135 304.57 495.28)"/><ellipse cx="311.02" cy="499.01" rx="2" ry="1.2" transform="rotate(105 311.02 499.01)"/><ellipse cx="318.43" cy="499.5" rx="2" ry="1.2" transform="rotate(90 318.43 499.5)"/><ellipse cx="325.79" cy="499.5" rx="2" ry="1.2" transform="rotate(90 325.79 499.5)"/><ellipse cx="333.16" cy="499.5" rx="2" ry="1.2" transform="rotate(90 333.16 499.5)"/><ellipse cx="340.52" cy="499.5" rx="2" ry="1.2" transform="rotate(90 340.52 499.5)"/></g><g fill="#ffffff" fill-opacity="0.6"><ellipse cx="64.49" cy="492.5" rx="1.6" ry="0.9" transform="rotate(90 64.49 492.5)"/><ellipse cx="70.48" cy="492.5" rx="1.6" ry="0.9" transform="rotate(90 70.48 492.5)"/><ellipse cx="76.47" cy="492.5" rx="1.6" ry="0.9" transform="rotate(90 76.47 492.5)"/><ellipse cx="82.46" cy="492.5" rx="1.6" ry="0.9" transform="rotate(90 82.46 492.5)"/><ellipse cx="87.37" cy="492.25" rx="1.6" ry="0.9" transform="rotate(75 87.37 492.25)"/><ellipse cx="97.47" cy="497.12" rx="1.6" ry="0.9" transform="rotate(45 97.47 497.12)"/><ellipse cx="101.87" cy="489.5" rx="1.6" ry="0.9" transform="rotate(15 101.87 489.5)"/><ellipse cx="102.45" cy="482.24" rx="1.6" ry="0.9" transform="rotate(0 102.45 482.24)"/><ellipse cx="102.45" cy="476.53" rx="1.6" ry="0.9" transform="rotate(0 102.45 476.53)"/><ellipse cx="102.45" cy="470.81" rx="1.6" ry="0.9" transform="rotate(0 102.45 470.81)"/><ellipse cx="102.45" cy="465.09" rx="1.6" ry="0.9" transform="rotate(0 102.45 465.09)"/><ellipse cx="102.45" cy="459.38" rx="1.6" ry="0.9" transform="rotate(0 102.45 459.38)"/><ellipse cx="102.45" cy="453.66" rx="1.6" ry="0.9" transform="rotate(0 102.45 453.66)"/><ellipse cx="102.45" cy="447.94" rx="1.6" ry="0.9" transform="rotate(0 102.45 447.94)"/><ellipse cx="102.45" cy="442.22" rx="1.6" ry="0.9" transform="rotate(0 102.45 442.22)"/><ellipse cx="102.45" cy="436.51" rx="1.6" ry="0.9" transform="rotate(0 102.45 436.51)"/><ellipse cx="102.64" cy="431.45" rx="1.6" ry="0.9" transform="rotate(10 102.64 431.45)"/><ellipse cx="104.14" cy="427.32" rx="1.6" ry="0.9" transform="rotate(30 104.14 427.32)"/><ellipse cx="106.97" cy="423.96" rx="1.6" ry="0.9" transform="rotate(50 106.97 423.96)"/><ellipse cx="107.49" cy="412.74" rx="1.6" ry="0.9" transform="rotate(70 107.49 412.74)"/><ellipse cx="115.1" cy="411.4" rx="1.6" ry="0.9" transform="rotate(90 115.1 411.4)"/><ellipse cx="122.71" cy="412.74" rx="1.6" ry="0.9" transform="rotate(110 122.71 412.74)"/><ellipse cx="129.4" cy="416.61" rx="1.6" ry="0.9" transform="rotate(130 129.4 416.61)"/><ellipse cx="134.37" cy="422.52" rx="1.6" ry="0.9" transform="rotate(150 134.37 422.52)"/><ellipse cx="137.01" cy="429.79" rx="1.6" ry="0.9" transform="rotate(170 137.01 429.79)"/><ellipse cx="137.35" cy="436.51" rx="1.6" ry="0.9" transform="rotate(180 137.35 436.51)"/><ellipse cx="137.35" cy="442.22" rx="1.6" ry="0.9" transform="rotate(180 137.35 442.22)"/><ellipse cx="137.35" cy="447.94" rx="1.6" ry="0.9" transform="rotate(180 137.35 447.94)"/><ellipse cx="137.35" cy="453.66" rx="1.6" ry="0.9" transform="rotate(180 137.35 453.66)"/><ellipse cx="137.35" cy="459.38" rx="1.6" ry="0.9" transform="rotate(180 137.35 459.38)"/><ellipse cx="137.35" cy="465.09" rx="1.6" ry="0.9" transform="rotate(180 137.35 465.09)"/><ellipse cx="137.35" cy="470.81" rx="1.6" ry="0.9" transform="rotate(180 137.35 470.81)"/><ellipse cx="137.35" cy="476.53" rx="1.6" ry="0.9" transform="rotate(180 137.35 476.53)"/><ellipse cx="137.35" cy="482.24" rx="1.6" ry="0.9" transform="rotate(180 137.35 482.24)"/><ellipse cx="137.6" cy="487.02" rx="1.6" ry="0.9" transform="rotate(165 137.6 487.02)"/><ellipse cx="139.52" cy="490.33" rx="1.6" ry="0.9" transform="rotate(135 139.52 490.33)"/><ellipse cx="142.83" cy="492.25" rx="1.6" ry="0.9" transform="rotate(105 142.83 492.25)"/><ellipse cx="147.96" cy="492.5" rx="1.6" ry="0.9" transform="rotate(90 147.96 492.5)"/><ellipse cx="154.39" cy="492.5" rx="1.6" ry="0.9" transform="rotate(90 154.39 492.5)"/><ellipse cx="160.81" cy="492.5" rx="1.6" ry="0.9" transform="rotate(90 160.81 492.5)"/><ellipse cx="167.24" cy="492.5" rx="1.6" ry="0.9" transform="rotate(90 167.24 492.5)"/><ellipse cx="172.37" cy="492.25" rx="1.6" ry="0.9" transform="rotate(75 172.37 492.25)"/><ellipse cx="182.47" cy="497.12" rx="1.6" ry="0.9" transform="rotate(45 182.47 497.12)"/><ellipse cx="186.87" cy="489.5" rx="1.6" ry="0.9" transform="rotate(15 186.87 489.5)"/><ellipse cx="187.45" cy="482.24" rx="1.6" ry="0.9" transform="rotate(0 187.45 482.24)"/><ellipse cx="187.45" cy="476.53" rx="1.6" ry="0.9" transform="rotate(0 187.45 476.53)"/><ellipse cx="187.45" cy="470.81" rx="1.6" ry="0.9" transform="rotate(0 187.45 470.81)"/><ellipse cx="187.45" cy="465.09" rx="1.6" ry="0.9" transform="rotate(0 187.45 465.09)"/><ellipse cx="187.45" cy="459.38" rx="1.6" ry="0.9" transform="rotate(0 187.45 459.38)"/><ellipse cx="187.45" cy="453.66" rx="1.6" ry="0.9" transform="rotate(0 187.45 453.66)"/><ellipse cx="187.45" cy="447.94" rx="1.6" ry="0.9" transform="rotate(0 187.45 447.94)"/><ellipse cx="187.45" cy="442.22" rx="1.6" ry="0.9" transform="rotate(0 187.45 442.22)"/><ellipse cx="187.45" cy="436.51" rx="1.6" ry="0.9" transform="rotate(0 187.45 436.51)"/><ellipse cx="187.64" cy="431.45" rx="1.6" ry="0.9" transform="rotate(10 187.64 431.45)"/><ellipse cx="189.14" cy="427.32" rx="1.6" ry="0.9" transform="rotate(30 189.14 427.32)"/><ellipse cx="191.97" cy="423.96" rx="1.6" ry="0.9" transform="rotate(50 191.97 423.96)"/><ellipse cx="192.49" cy="412.74" rx="1.6" ry="0.9" transform="rotate(70 192.49 412.74)"/><ellipse cx="200.1" cy="411.4" rx="1.6" ry="0.9" transform="rotate(90 200.1 411.4)"/><ellipse cx="207.71" cy="412.74" rx="1.6" ry="0.9" transform="rotate(110 207.71 412.74)"/><ellipse cx="214.4" cy="416.61" rx="1.6" ry="0.9" transform="rotate(130 214.4 416.61)"/><ellipse cx="219.37" cy="422.52" rx="1.6" ry="0.9" transform="rotate(150 219.37 422.52)"/><ellipse cx="222.01" cy="429.79" rx="1.6" ry="0.9" transform="rotate(170 222.01 429.79)"/><ellipse cx="222.35" cy="436.51" rx="1.6" ry="0.9" transform="rotate(180 222.35 436.51)"/><ellipse cx="222.35" cy="442.22" rx="1.6" ry="0.9" transform="rotate(180 222.35 442.22)"/><ellipse cx="222.35" cy="447.94" rx="1.6" ry="0.9" transform="rotate(180 222.35 447.94)"/><ellipse cx="222.35" cy="453.66" rx="1.6" ry="0.9" transform="rotate(180 222.35 453.66)"/><ellipse cx="222.35" cy="459.38" rx="1.6" ry="0.9" transform="rotate(180 222.35 459.38)"/><ellipse cx="222.35" cy="465.09" rx="1.6" ry="0.9" transform="rotate(180 222.35 465.09)"/><ellipse cx="222.35" cy="470.81" rx="1.6" ry="0.9" transform="rotate(180 222.35 470.81)"/><ellipse cx="222.35" cy="476.53" rx="1.6" ry="0.9" transform="rotate(180 222.35 476.53)"/><ellipse cx="222.35" cy="482.24" rx="1.6" ry="0.9" transform="rotate(180 222.35 482.24)"/><ellipse cx="222.6" cy="487.02" rx="1.6" ry="0.9" transform="rotate(165 222.6 487.02)"/><ellipse cx="224.52" cy="490.33" rx="1.6" ry="0.9" transform="rotate(135 224.52 490.33)"/><ellipse cx="227.83" cy="492.25" rx="1.6" ry="0.9" transform="rotate(105 227.83 492.25)"/><ellipse cx="232.96" cy="492.5" rx="1.6" ry="0.9" transform="rotate(90 232.96 492.5)"/><ellipse cx="239.39" cy="492.5" rx="1.6" ry="0.9" transform="rotate(90 239.39 492.5)"/><ellipse cx="245.81" cy="492.5" rx="1.6" ry="0.9" transform="rotate(90 245.81 492.5)"/><ellipse cx="252.24" cy="492.5" rx="1.6" ry="0.9" transform="rotate(90 252.24 492.5)"/><ellipse cx="257.37" cy="492.25" rx="1.6" ry="0.9" transform="rotate(75 257.37 492.25)"/><ellipse cx="267.47" cy="497.12" rx="1.6" ry="0.9" transform="rotate(45 267.47 497.12)"/><ellipse cx="271.87" cy="489.5" rx="1.6" ry="0.9" transform="rotate(15 271.87 489.5)"/><ellipse cx="272.45" cy="482.24" rx="1.6" ry="0.9" transform="rotate(0 272.45 482.24)"/><ellipse cx="272.45" cy="476.53" rx="1.6" ry="0.9" transform="rotate(0 272.45 476.53)"/><ellipse cx="272.45" cy="470.81" rx="1.6" ry="0.9" transform="rotate(0 272.45 470.81)"/><ellipse cx="272.45" cy="465.09" rx="1.6" ry="0.9" transform="rotate(0 272.45 465.09)"/><ellipse cx="272.45" cy="459.38" rx="1.6" ry="0.9" transform="rotate(0 272.45 459.38)"/><ellipse cx="272.45" cy="453.66" rx="1.6" ry="0.9" transform="rotate(0 272.45 453.66)"/><ellipse cx="272.45" cy="447.94" rx="1.6" ry="0.9" transform="rotate(0 272.45 447.94)"/><ellipse cx="272.45" cy="442.22" rx="1.6" ry="0.9" transform="rotate(0 272.45 442.22)"/><ellipse cx="272.45" cy="436.51" rx="1.6" ry="0.9" transform="rotate(0 272.45 436.51)"/><ellipse cx="272.64" cy="431.45" rx="1.6" ry="0.9" transform="rotate(10 272.64 431.45)"/><ellipse cx="274.14" cy="427.32" rx="1.6" ry="0.9" transform="rotate(30 274.14 427.32)"/><ellipse cx="276.97" cy="423.96" rx="1.6" ry="0.9" transform="rotate(50 276.97 423.96)"/><ellipse cx="277.49" cy="412.74" rx="1.6" ry="0.9" transform="rotate(70 277.49 412.74)"/><ellipse cx="285.1" cy="411.4" rx="1.6" ry="0.9" transform="rotate(90 285.1 411.4)"/><ellipse cx="292.71" cy="412.74" rx="1.6" ry="0.9" transform="rotate(110 292.71 412.74)"/><ellipse cx="299.4" cy="416.61" rx="1.6" ry="0.9" transform="rotate(130 299.4 416.61)"/><ellipse cx="304.37" cy="422.52" rx="1.6" ry="0.9" transform="rotate(150 304.37 422.52)"/><ellipse cx="307.01" cy="429.79" rx="1.6" ry="0.9" transform="rotate(170 307.01 429.79)"/><ellipse cx="307.35" cy="436.51" rx="1.6" ry="0.9" transform="rotate(180 307.35 436.51)"/><ellipse cx="307.35" cy="442.22" rx="1.6" ry="0.9" transform="rotate(180 307.35 442.22)"/><ellipse cx="307.35" cy="447.94" rx="1.6" ry="0.9" transform="rotate(180 307.35 447.94)"/><ellipse cx="307.35" cy="453.66" rx="1.6" ry="0.9" transform="rotate(180 307.35 453.66)"/><ellipse cx="307.35" cy="459.38" rx="1.6" ry="0.9" transform="rotate(180 307.35 459.38)"/><ellipse cx="307.35" cy="465.09" rx="1.6" ry="0.9" transform="rotate(180 307.35 465.09)"/><ellipse cx="307.35" cy="470.81" rx="1.6" ry="0.9" transform="rotate(180 307.35 470.81)"/><ellipse cx="307.35" cy="476.53" rx="1.6" ry="0.9" transform="rotate(180 307.35 476.53)"/><ellipse cx="307.35" cy="482.24" rx="1.6" ry="0.9" transform="rotate(180 307.35 482.24)"/><ellipse cx="307.6" cy="487.02" rx="1.6" ry="0.9" transform="rotate(165 307.6 487.02)"/><ellipse cx="309.52" cy="490.33" rx="1.6" ry="0.9" transform="rotate(135 309.52 490.33)"/><ellipse cx="312.83" cy="492.25" rx="1.6" ry="0.9" transform="rotate(105 312.83 492.25)"/><ellipse cx="318.43" cy="492.5" rx="1.6" ry="0.9" transform="rotate(90 318.43 492.5)"/><ellipse cx="325.79" cy="492.5" rx="1.6" ry="0.9" transform="rotate(90 325.79 492.5)"/><ellipse cx="333.16" cy="492.5" rx="1.6" ry="0.9" transform="rotate(90 333.16 492.5)"/><ellipse cx="340.52" cy="492.5" rx="1.6" ry="0.9" transform="rotate(90 340.52 492.5)"/></g></g></g>
<g id="colon"><path d="M61.5 497.3 L62.7 497.3 L63.89 497.3 L65.09 497.3 L66.29 497.3 L67.49 497.3 L68.69 497.3 L69.88 497.3 L71.08 497.3 L72.28 497.3 L73.47 497.3 L74.67 497.3 L75.87 497.3 L77.07 497.3 L78.26 497.3 L79.46 497.3 L80.66 497.3 L81.86 497.3 L83.05 497.3 L84.25 497.3 L85.45 497.3 L85.45 497.3 L86.41 497.26 L87.36 497.15 L88.3 496.96 L89.22 496.7 L90.12 496.37 L90.99 495.97 L91.82 495.5 L92.62 494.97 L93.37 494.38 L94.08 493.73 L94.73 493.02 L95.32 492.27 L95.85 491.47 L96.32 490.64 L96.72 489.77 L97.05 488.87 L97.31 487.95 L97.5 487.01 L97.61 486.06 L97.65 485.1 L97.65 485.1 L97.65 482.53 L97.65 479.96 L97.65 477.38 L97.65 474.81 L97.65 472.24 L97.65 469.67 L97.65 467.09 L97.65 464.52 L97.65 461.95 L97.65 459.38 L97.65 456.8 L97.65 454.23 L97.65 451.66 L97.65 449.08 L97.65 446.51 L97.65 443.94 L97.65 441.37 L97.65 438.79 L97.65 436.22 L97.65 433.65 L97.65 433.65 L97.86 430.92 L98.5 428.26 L99.55 425.73 L100.98 423.39 L102.76 421.31 L104.84 419.53 L107.18 418.1 L109.71 417.05 L112.37 416.41 L115.1 416.2 L117.83 416.41 L120.49 417.05 L123.02 418.1 L125.36 419.53 L127.44 421.31 L129.22 423.39 L130.65 425.73 L131.7 428.26 L132.34 430.92 L132.55 433.65 L132.55 433.65 L132.55 436.22 L132.55 438.79 L132.55 441.37 L132.55 443.94 L132.55 446.51 L132.55 449.08 L132.55 451.66 L132.55 454.23 L132.55 456.8 L132.55 459.38 L132.55 461.95 L132.55 464.52 L132.55 467.09 L132.55 469.67 L132.55 472.24 L132.55 474.81 L132.55 477.38 L132.55 479.96 L132.55 482.53 L132.55 485.1 L132.55 485.1 L132.59 486.06 L132.7 487.01 L132.89 487.95 L133.15 488.87 L133.48 489.77 L133.88 490.64 L134.35 491.47 L134.88 492.27 L135.47 493.02 L136.12 493.73 L136.83 494.38 L137.58 494.97 L138.38 495.5 L139.21 495.97 L140.08 496.37 L140.98 496.7 L141.9 496.96 L142.84 497.15 L143.79 497.26 L144.75 497.3 L144.75 497.3 L146.03 497.3 L147.32 497.3 L148.6 497.3 L149.89 497.3 L151.17 497.3 L152.46 497.3 L153.74 497.3 L155.03 497.3 L156.31 497.3 L157.6 497.3 L158.88 497.3 L160.17 497.3 L161.46 497.3 L162.74 497.3 L164.03 497.3 L165.31 497.3 L166.59 497.3 L167.88 497.3 L169.17 497.3 L170.45 497.3 L170.45 497.3 L171.41 497.26 L172.36 497.15 L173.3 496.96 L174.22 496.7 L175.12 496.37 L175.99 495.97 L176.82 495.5 L177.62 494.97 L178.37 494.38 L179.08 493.73 L179.73 493.02 L180.32 492.27 L180.85 491.47 L181.32 490.64 L181.72 489.77 L182.05 488.87 L182.31 487.95 L182.5 487.01 L182.61 486.06 L182.65 485.1 L182.65 485.1 L182.65 482.53 L182.65 479.96 L182.65 477.38 L182.65 474.81 L182.65 472.24 L182.65 469.67 L182.65 467.09 L182.65 464.52 L182.65 461.95 L182.65 459.38 L182.65 456.8 L182.65 454.23 L182.65 451.66 L182.65 449.08 L182.65 446.51 L182.65 443.94 L182.65 441.37 L182.65 438.79 L182.65 436.22 L182.65 433.65 L182.65 433.65 L182.86 430.92 L183.5 428.26 L184.55 425.73 L185.98 423.39 L187.76 421.31 L189.84 419.53 L192.18 418.1 L194.71 417.05 L197.37 416.41 L200.1 416.2 L202.83 416.41 L205.49 417.05 L208.02 418.1 L210.36 419.53 L212.44 421.31 L214.22 423.39 L215.65 425.73 L216.7 428.26 L217.34 430.92 L217.55 433.65 L217.55 433.65 L217.55 436.22 L217.55 438.79 L217.55 441.37 L217.55 443.94 L217.55 446.51 L217.55 449.08 L217.55 451.66 L217.55 454.23 L217.55 456.8 L217.55 459.38 L217.55 461.95 L217.55 464.52 L217.55 467.09 L217.55 469.67 L217.55 472.24 L217.55 474.81 L217.55 477.38 L217.55 479.96 L217.55 482.53 L217.55 485.1 L217.55 485.1 L217.59 486.06 L217.7 487.01 L217.89 487.95 L218.15 488.87 L218.48 489.77 L218.88 490.64 L219.35 491.47 L219.88 492.27 L220.47 493.02 L221.12 493.73 L221.83 494.38 L222.58 494.97 L223.38 495.5 L224.21 495.97 L225.08 496.37 L225.98 496.7 L226.9 496.96 L227.84 497.15 L228.79 497.26 L229.75 497.3 L229.75 497.3 L231.03 497.3 L232.32 497.3 L233.6 497.3 L234.89 497.3 L236.17 497.3 L237.46 497.3 L238.75 497.3 L240.03 497.3 L241.31 497.3 L242.6 497.3 L243.89 497.3 L245.17 497.3 L246.46 497.3 L247.74 497.3 L249.03 497.3 L250.31 497.3 L251.6 497.3 L252.88 497.3 L254.17 497.3 L255.45 497.3 L255.45 497.3 L256.41 497.26 L257.36 497.15 L258.3 496.96 L259.22 496.7 L260.12 496.37 L260.99 495.97 L261.82 495.5 L262.62 494.97 L263.37 494.38 L264.08 493.73 L264.73 493.02 L265.32 492.27 L265.85 491.47 L266.32 490.64 L266.72 489.77 L267.05 488.87 L267.31 487.95 L267.5 487.01 L267.61 486.06 L267.65 485.1 L267.65 485.1 L267.65 482.53 L267.65 479.96 L267.65 477.38 L267.65 474.81 L267.65 472.24 L267.65 469.67 L267.65 467.09 L267.65 464.52 L267.65 461.95 L267.65 459.38 L267.65 456.8 L267.65 454.23 L267.65 451.66 L267.65 449.08 L267.65 446.51 L267.65 443.94 L267.65 441.37 L267.65 438.79 L267.65 436.22 L267.65 433.65 L267.65 433.65 L267.86 430.92 L268.5 428.26 L269.55 425.73 L270.98 423.39 L272.76 421.31 L274.84 419.53 L277.18 418.1 L279.71 417.05 L282.37 416.41 L285.1 416.2 L287.83 416.41 L290.49 417.05 L293.02 418.1 L295.36 419.53 L297.44 421.31 L299.22 423.39 L300.65 425.73 L301.7 428.26 L302.34 430.92 L302.55 433.65 L302.55 433.65 L302.55 436.22 L302.55 438.79 L302.55 441.37 L302.55 443.94 L302.55 446.51 L302.55 449.08 L302.55 451.66 L302.55 454.23 L302.55 456.8 L302.55 459.38 L302.55 461.95 L302.55 464.52 L302.55 467.09 L302.55 469.67 L302.55 472.24 L302.55 474.81 L302.55 477.38 L302.55 479.96 L302.55 482.53 L302.55 485.1 L302.55 485.1 L302.59 486.06 L302.7 487.01 L302.89 487.95 L303.15 488.87 L303.48 489.77 L303.88 490.64 L304.35 491.47 L304.88 492.27 L305.47 493.02 L306.12 493.73 L306.83 494.38 L307.58 494.97 L308.38 495.5 L309.21 495.97 L310.08 496.37 L310.98 496.7 L311.9 496.96 L312.84 497.15 L313.79 497.26 L314.75 497.3 L314.75 497.3 L316.22 497.3 L317.69 497.3 L319.17 497.3 L320.64 497.3 L322.11 497.3 L323.58 497.3 L325.06 497.3 L326.53 497.3 L328 497.3 L329.48 497.3 L330.95 497.3 L332.42 497.3 L333.89 497.3 L335.37 497.3 L336.84 497.3 L338.31 497.3 L339.78 497.3 L341.25 497.3 L342.73 497.3 L344.2 497.3 L344.2 546.2 L342.73 546.2 L341.25 546.2 L339.78 546.2 L338.31 546.2 L336.84 546.2 L335.37 546.2 L333.89 546.2 L332.42 546.2 L330.95 546.2 L329.48 546.2 L328 546.2 L326.53 546.2 L325.06 546.2 L323.58 546.2 L322.11 546.2 L320.64 546.2 L319.17 546.2 L317.69 546.2 L316.22 546.2 L314.75 546.2 L314.75 546.2 L313.79 546.24 L312.84 546.35 L311.9 546.54 L310.98 546.8 L310.08 547.13 L309.21 547.53 L308.38 548 L307.58 548.53 L306.83 549.12 L306.12 549.77 L305.47 550.48 L304.88 551.23 L304.35 552.03 L303.88 552.86 L303.48 553.73 L303.15 554.63 L302.89 555.55 L302.7 556.49 L302.59 557.44 L302.55 558.4 L302.55 558.4 L302.55 560.97 L302.55 563.54 L302.55 566.12 L302.55 568.69 L302.55 571.26 L302.55 573.84 L302.55 576.41 L302.55 578.98 L302.55 581.55 L302.55 584.12 L302.55 586.7 L302.55 589.27 L302.55 591.84 L302.55 594.41 L302.55 596.99 L302.55 599.56 L302.55 602.13 L302.55 604.71 L302.55 607.28 L302.55 609.85 L302.55 609.85 L302.34 612.58 L301.7 615.24 L300.65 617.77 L299.22 620.11 L297.44 622.19 L295.36 623.97 L293.02 625.4 L290.49 626.45 L287.83 627.09 L285.1 627.3 L282.37 627.09 L279.71 626.45 L277.18 625.4 L274.84 623.97 L272.76 622.19 L270.98 620.11 L269.55 617.77 L268.5 615.24 L267.86 612.58 L267.65 609.85 L267.65 609.85 L267.65 607.28 L267.65 604.71 L267.65 602.13 L267.65 599.56 L267.65 596.99 L267.65 594.41 L267.65 591.84 L267.65 589.27 L267.65 586.7 L267.65 584.12 L267.65 581.55 L267.65 578.98 L267.65 576.41 L267.65 573.84 L267.65 571.26 L267.65 568.69 L267.65 566.12 L267.65 563.54 L267.65 560.97 L267.65 558.4 L267.65 558.4 L267.61 557.44 L267.5 556.49 L267.31 555.55 L267.05 554.63 L266.72 553.73 L266.32 552.86 L265.85 552.03 L265.32 551.23 L264.73 550.48 L264.08 549.77 L263.37 549.12 L262.62 548.53 L261.82 548 L260.99 547.53 L260.12 547.13 L259.22 546.8 L258.3 546.54 L257.36 546.35 L256.41 546.24 L255.45 546.2 L255.45 546.2 L254.17 546.2 L252.88 546.2 L251.6 546.2 L250.31 546.2 L249.03 546.2 L247.74 546.2 L246.46 546.2 L245.17 546.2 L243.89 546.2 L242.6 546.2 L241.31 546.2 L240.03 546.2 L238.75 546.2 L237.46 546.2 L236.17 546.2 L234.89 546.2 L233.6 546.2 L232.32 546.2 L231.03 546.2 L229.75 546.2 L229.75 546.2 L228.79 546.24 L227.84 546.35 L226.9 546.54 L225.98 546.8 L225.08 547.13 L224.21 547.53 L223.38 548 L222.58 548.53 L221.83 549.12 L221.12 549.77 L220.47 550.48 L219.88 551.23 L219.35 552.03 L218.88 552.86 L218.48 553.73 L218.15 554.63 L217.89 555.55 L217.7 556.49 L217.59 557.44 L217.55 558.4 L217.55 558.4 L217.55 560.97 L217.55 563.54 L217.55 566.12 L217.55 568.69 L217.55 571.26 L217.55 573.84 L217.55 576.41 L217.55 578.98 L217.55 581.55 L217.55 584.12 L217.55 586.7 L217.55 589.27 L217.55 591.84 L217.55 594.41 L217.55 596.99 L217.55 599.56 L217.55 602.13 L217.55 604.71 L217.55 607.28 L217.55 609.85 L217.55 609.85 L217.34 612.58 L216.7 615.24 L215.65 617.77 L214.22 620.11 L212.44 622.19 L210.36 623.97 L208.02 625.4 L205.49 626.45 L202.83 627.09 L200.1 627.3 L197.37 627.09 L194.71 626.45 L192.18 625.4 L189.84 623.97 L187.76 622.19 L185.98 620.11 L184.55 617.77 L183.5 615.24 L182.86 612.58 L182.65 609.85 L182.65 609.85 L182.65 607.28 L182.65 604.71 L182.65 602.13 L182.65 599.56 L182.65 596.99 L182.65 594.41 L182.65 591.84 L182.65 589.27 L182.65 586.7 L182.65 584.12 L182.65 581.55 L182.65 578.98 L182.65 576.41 L182.65 573.84 L182.65 571.26 L182.65 568.69 L182.65 566.12 L182.65 563.54 L182.65 560.97 L182.65 558.4 L182.65 558.4 L182.61 557.44 L182.5 556.49 L182.31 555.55 L182.05 554.63 L181.72 553.73 L181.32 552.86 L180.85 552.03 L180.32 551.23 L179.73 550.48 L179.08 549.77 L178.37 549.12 L177.62 548.53 L176.82 548 L175.99 547.53 L175.12 547.13 L174.22 546.8 L173.3 546.54 L172.36 546.35 L171.41 546.24 L170.45 546.2 L170.45 546.2 L169.17 546.2 L167.88 546.2 L166.59 546.2 L165.31 546.2 L164.03 546.2 L162.74 546.2 L161.46 546.2 L160.17 546.2 L158.88 546.2 L157.6 546.2 L156.31 546.2 L155.03 546.2 L153.74 546.2 L152.46 546.2 L151.17 546.2 L149.89 546.2 L148.6 546.2 L147.32 546.2 L146.03 546.2 L144.75 546.2 L144.75 546.2 L143.79 546.24 L142.84 546.35 L141.9 546.54 L140.98 546.8 L140.08 547.13 L139.21 547.53 L138.38 548 L137.58 548.53 L136.83 549.12 L136.12 549.77 L135.47 550.48 L134.88 551.23 L134.35 552.03 L133.88 552.86 L133.48 553.73 L133.15 554.63 L132.89 555.55 L132.7 556.49 L132.59 557.44 L132.55 558.4 L132.55 558.4 L132.55 560.97 L132.55 563.54 L132.55 566.12 L132.55 568.69 L132.55 571.26 L132.55 573.84 L132.55 576.41 L132.55 578.98 L132.55 581.55 L132.55 584.12 L132.55 586.7 L132.55 589.27 L132.55 591.84 L132.55 594.41 L132.55 596.99 L132.55 599.56 L132.55 602.13 L132.55 604.71 L132.55 607.28 L132.55 609.85 L132.55 609.85 L132.34 612.58 L131.7 615.24 L130.65 617.77 L129.22 620.11 L127.44 622.19 L125.36 623.97 L123.02 625.4 L120.49 626.45 L117.83 627.09 L115.1 627.3 L112.37 627.09 L109.71 626.45 L107.18 625.4 L104.84 623.97 L102.76 622.19 L100.98 620.11 L99.55 617.77 L98.5 615.24 L97.86 612.58 L97.65 609.85 L97.65 609.85 L97.65 607.28 L97.65 604.71 L97.65 602.13 L97.65 599.56 L97.65 596.99 L97.65 594.41 L97.65 591.84 L97.65 589.27 L97.65 586.7 L97.65 584.12 L97.65 581.55 L97.65 578.98 L97.65 576.41 L97.65 573.84 L97.65 571.26 L97.65 568.69 L97.65 566.12 L97.65 563.54 L97.65 560.97 L97.65 558.4 L97.65 558.4 L97.61 557.44 L97.5 556.49 L97.31 555.55 L97.05 554.63 L96.72 553.73 L96.32 552.86 L95.85 552.03 L95.32 551.23 L94.73 550.48 L94.08 549.77 L93.37 549.12 L92.62 548.53 L91.82 548 L90.99 547.53 L90.12 547.13 L89.22 546.8 L88.3 546.54 L87.36 546.35 L86.41 546.24 L85.45 546.2 L85.45 546.2 L84.25 546.2 L83.05 546.2 L81.86 546.2 L80.66 546.2 L79.46 546.2 L78.26 546.2 L77.07 546.2 L75.87 546.2 L74.67 546.2 L73.47 546.2 L72.28 546.2 L71.08 546.2 L69.88 546.2 L68.69 546.2 L67.49 546.2 L66.29 546.2 L65.09 546.2 L63.89 546.2 L62.7 546.2 L61.5 546.2Z" fill="url(#lumGrad)"/><g clip-path="url(#lumClip)"><g filter="url(#blur3)" opacity="0.4"><path d="M61.5 497.3 L85.45 497.3 A12.2 12.2 0 0 0 97.65 485.1 L97.65 433.65 A17.45 17.45 0 0 1 132.55 433.65 L132.55 485.1 A12.2 12.2 0 0 0 144.75 497.3 L170.45 497.3 A12.2 12.2 0 0 0 182.65 485.1 L182.65 433.65 A17.45 17.45 0 0 1 217.55 433.65 L217.55 485.1 A12.2 12.2 0 0 0 229.75 497.3 L255.45 497.3 A12.2 12.2 0 0 0 267.65 485.1 L267.65 433.65 A17.45 17.45 0 0 1 302.55 433.65 L302.55 485.1 A12.2 12.2 0 0 0 314.75 497.3 L344.2 497.3" fill="none" stroke="#d2d5de" stroke-width="26"/><path d="M61.5 497.3 L85.45 497.3 A12.2 12.2 0 0 0 97.65 485.1 L97.65 433.65 A17.45 17.45 0 0 1 132.55 433.65 L132.55 485.1 A12.2 12.2 0 0 0 144.75 497.3 L170.45 497.3 A12.2 12.2 0 0 0 182.65 485.1 L182.65 433.65 A17.45 17.45 0 0 1 217.55 433.65 L217.55 485.1 A12.2 12.2 0 0 0 229.75 497.3 L255.45 497.3 A12.2 12.2 0 0 0 267.65 485.1 L267.65 433.65 A17.45 17.45 0 0 1 302.55 433.65 L302.55 485.1 A12.2 12.2 0 0 0 314.75 497.3 L344.2 497.3" fill="none" stroke="#d2d5de" stroke-width="26" transform="matrix(1 0 0 -1 0 1043.5)"/></g></g><line x1="63.6" y1="505" x2="63.6" y2="538.5" stroke="#dcdee5" stroke-width="0.8"/><line x1="342.1" y1="505" x2="342.1" y2="538.5" stroke="#dcdee5" stroke-width="0.8"/><use href="#colTop"/><use href="#colTop" transform="matrix(1 0 0 -1 0 1043.5)"/></g>
<linearGradient id="bcell" x1="0" y1="0" x2="1" y2="1"><stop offset="0" stop-color="#9fcdf3"/><stop offset="0.45" stop-color="#5ea2e2"/><stop offset="1" stop-color="#4189d0"/></linearGradient>
</defs>
<rect width="751" height="757" fill="#f5f5ef"/>
<path d="M-10 212.4 L126.7 406.3 L94.7 428.8 L-10 276.2Z" fill="url(#beam1)"/>
<path d="M220.5 548.6 L263.4 548.6 L243.1 761 L194.1 761Z" fill="url(#beam2)"/>
<use href="#colon"/>
<use href="#colon" transform="translate(369.5 0)"/>
<path d="M459 445.8 L458.69 432.5 L458.76 430.18 L459.02 427.87 L459.44 425.57 L460.03 423.3 L460.78 421.07 L461.72 418.89 L462.89 416.81 L464.31 414.89 L465.96 413.16 L467.8 411.65 L469.78 410.34 L471.85 409.21 L473.99 408.24 L476.17 407.42 L478.41 406.77 L480.68 406.29 L482.98 406 L485.3 405.9 L487.62 406 L489.92 406.3 L492.18 406.81 L494.4 407.5 L496.54 408.39 L498.6 409.46 L500.56 410.71 L502.4 412.12 L504.11 413.69 L505.68 415.4 L507.09 417.24 L508.34 419.2 L509.41 421.26 L510.3 423.4 L510.99 425.62 L511.5 427.88 L511.8 430.18 L511.9 432.5 L511.2 441.6 L494.6 441.9 L494 445.2 L474.5 445.8Z" fill="#2a68ad" stroke="#1b5ea6" stroke-width="1.4" stroke-linejoin="round"/><g fill="url(#bcell)" stroke="#1b5ea6" stroke-width="1.15" stroke-linejoin="round"><path d="M462.46 433.75Q463.98 433.25 464.51 431.74L465.88 427.87Q466.42 426.36 464.9 425.87L461.32 424.71Q459.79 424.21 459.52 425.79L459.04 428.6Q458.76 430.18 458.76 431.78L458.75 433.38Q458.74 434.98 460.26 434.48Z"/><path d="M470.71 424.23Q471.74 423.01 471.73 422.84L471.73 422.81Q471.73 422.64 470.43 421.7L464.47 417.37Q463.18 416.43 462.52 417.55L462.38 417.77Q461.72 418.89 461.18 420.39L460.34 422.71Q459.79 424.21 461.32 424.71L464.9 425.87Q466.42 426.36 467.6 426.31L467.83 426.3Q469.01 426.24 470.04 425.02Z"/><path d="M470.33 411.89Q469.39 410.6 468.11 411.56L467.24 412.2Q465.96 413.16 464.92 414.38L464.21 415.21Q463.18 416.43 464.47 417.37L470.43 421.7Q471.73 422.64 472.63 421.32L473.94 419.43Q474.84 418.11 473.9 416.82Z"/><path d="M473.9 416.82Q474.84 418.11 476.41 417.8L478.14 417.46Q479.71 417.15 479.9 416.87L479.93 416.82Q480.12 416.54 479.62 415.02L477.56 408.68Q477.07 407.16 475.67 407.65L475.39 407.75Q473.99 408.24 472.56 408.97L470.81 409.87Q469.39 410.6 470.33 411.89Z"/><path d="M485.3 407.5Q485.3 405.9 483.71 406.03L482.27 406.15Q480.68 406.29 479.12 406.67L478.62 406.79Q477.07 407.16 477.56 408.68L479.62 415.02Q480.12 416.54 481.62 416.01L483.79 415.25Q485.3 414.71 485.3 413.11Z"/><path d="M485.3 413.11Q485.3 414.71 486.75 415.38L488.48 416.19Q489.93 416.86 490.17 416.77L490.21 416.75Q490.45 416.66 490.94 415.14L493.02 408.75Q493.51 407.23 491.96 406.83L491.47 406.7Q489.92 406.3 488.33 406.16L486.89 406.04Q485.3 405.9 485.3 407.5Z"/><path d="M499.99 412.29Q500.93 410.99 499.55 410.18L497.92 409.21Q496.54 408.39 495.16 407.86L494.89 407.76Q493.51 407.23 493.02 408.75L490.94 415.14Q490.45 416.66 491.99 417.08L494.22 417.68Q495.76 418.1 496.7 416.8Z"/><path d="M496.7 416.8Q495.76 418.1 496.61 419.46L497.83 421.43Q498.67 422.79 499.97 421.84L505.51 417.81Q506.81 416.87 505.77 415.65L505.14 414.91Q504.11 413.69 502.89 412.66L502.15 412.03Q500.93 410.99 499.99 412.29Z"/><path d="M499.97 421.84Q498.67 422.79 499.7 424.01L500.12 424.5Q501.15 425.72 502.74 425.94L503.06 425.99Q504.65 426.21 506.17 425.72L509.05 424.78Q510.57 424.29 510.04 422.91L509.94 422.64Q509.41 421.26 508.59 419.88L507.62 418.25Q506.81 416.87 505.51 417.81Z"/><path d="M506.17 425.72Q504.65 426.21 504.84 427.8L505.21 430.91Q505.4 432.5 506.84 433.19L510.23 434.8Q511.67 435.49 511.77 434.13L511.8 433.86Q511.9 432.5 511.85 431.45L511.84 431.24Q511.8 430.18 511.66 429.14L511.63 428.93Q511.5 427.88 511.1 426.33L510.97 425.84Q510.57 424.29 509.05 424.78Z"/><path d="M469.38 427.79Q469.01 426.24 467.83 426.3L467.6 426.31Q466.42 426.36 465.88 427.87L464.51 431.74Q463.98 433.25 465.58 433.25L469.06 433.25Q470.66 433.25 470.3 431.69Z"/><path d="M471.57 433.98Q470.66 433.25 469.06 433.25L465.58 433.25Q463.98 433.25 462.46 433.75L460.26 434.48Q458.74 434.98 458.78 436.58L458.81 437.9Q458.85 439.5 460.45 439.5L469.72 439.5Q471.32 439.5 471.76 437.96L472.21 436.38Q472.65 434.85 471.75 434.12Z"/><path d="M460.45 439.5Q458.85 439.5 458.89 441.1L458.96 444.2Q459 445.8 460.6 445.8L471.52 445.8Q473.12 445.8 472.68 444.26L471.76 441.04Q471.32 439.5 469.72 439.5Z"/><path d="M504.84 427.8Q504.65 426.21 503.06 425.99L502.74 425.94Q501.15 425.72 500.88 427.3L500.25 430.92Q499.97 432.5 501.57 432.5L503.8 432.5Q505.4 432.5 505.21 430.91Z"/><path d="M506.84 433.19Q505.4 432.5 503.8 432.5L501.57 432.5Q499.97 432.5 498.74 433.52L497.42 434.62Q496.19 435.64 495.81 436.6L495.73 436.79Q495.35 437.75 496.95 437.75L509.9 437.75Q511.5 437.75 511.58 436.72L511.59 436.52Q511.67 435.49 510.23 434.8Z"/><path d="M496.95 437.75Q495.35 437.75 495.16 437.99L495.13 438.04Q494.94 438.29 494.99 439.89L495 440.29Q495.05 441.89 496.65 441.86L509.6 441.63Q511.2 441.6 511.32 440L511.37 439.35Q511.5 437.75 509.9 437.75Z"/><path d="M476.61 428.35Q477.37 426.95 476.06 426.03L473.05 423.92Q471.74 423.01 470.71 424.23L470.04 425.02Q469.01 426.24 469.38 427.79L470.3 431.69Q470.66 433.25 471.57 433.98L471.75 434.12Q472.65 434.85 472.9 434.75L472.95 434.74Q473.19 434.65 473.96 433.24Z"/><path d="M481.42 426.42Q483.01 426.21 482.46 424.71L480.26 418.65Q479.71 417.15 478.14 417.46L476.41 417.8Q474.84 418.11 473.94 419.43L472.63 421.32Q471.73 422.64 471.73 422.81L471.73 422.84Q471.74 423.01 473.05 423.92L476.06 426.03Q477.37 426.95 478.96 426.74Z"/><path d="M486.07 426.04Q487.44 425.27 487.89 423.74L489.48 418.39Q489.93 416.86 488.48 416.19L486.75 415.38Q485.3 414.71 483.79 415.25L481.62 416.01Q480.12 416.54 479.93 416.82L479.9 416.87Q479.71 417.15 480.26 418.65L482.46 424.71Q483.01 426.21 483.65 426.55L483.78 426.62Q484.43 426.96 485.8 426.19Z"/><path d="M491.86 426.17Q493.42 426.49 494.71 425.54L497.2 423.69Q498.49 422.74 497.68 421.36L496.57 419.48Q495.76 418.1 494.22 417.68L491.99 417.08Q490.45 416.66 490.21 416.75L490.17 416.77Q489.93 416.86 489.48 418.39L487.89 423.74Q487.44 425.27 489.01 425.59Z"/><path d="M500.88 427.3Q501.15 425.72 500.09 424.53L499.56 423.93Q498.49 422.74 497.2 423.69L494.71 425.54Q493.42 426.49 493.89 428.02L495.73 434.11Q496.19 435.64 497.42 434.62L498.74 433.52Q499.97 432.5 500.25 430.92Z"/><path d="M483.65 426.55Q483.01 426.21 481.42 426.42L478.96 426.74Q477.37 426.95 476.61 428.35L473.96 433.24Q473.19 434.65 474.77 434.94L480.56 436.03Q482.14 436.32 483.33 435.26L483.78 434.86Q484.97 433.8 484.85 432.21L484.55 428.56Q484.43 426.96 483.78 426.62Z"/><path d="M495.62 436.84Q496.19 435.64 495.73 434.11L493.89 428.02Q493.42 426.49 491.86 426.17L489.01 425.59Q487.44 425.27 486.07 426.04L485.8 426.19Q484.43 426.96 484.55 428.56L484.85 432.21Q484.97 433.8 486.43 434.46L493.48 437.63Q494.94 438.29 495.51 437.08Z"/><path d="M481.97 437.91Q482.14 436.32 480.56 436.03L474.77 434.94Q473.19 434.65 472.95 434.74L472.9 434.75Q472.65 434.85 472.21 436.38L471.76 437.96Q471.32 439.5 471.76 441.04L472.68 444.26Q473.12 445.8 474.72 445.76L479.56 445.64Q481.16 445.6 481.33 444Z"/><path d="M494.99 439.89Q494.94 438.29 493.48 437.63L486.43 434.46Q484.97 433.8 483.78 434.86L483.33 435.26Q482.14 436.32 481.97 437.91L481.33 444Q481.16 445.6 482.76 445.55L492.4 445.25Q494 445.2 494.27 443.7L494.33 443.4Q494.6 441.9 494.8 441.9L494.84 441.9Q495.05 441.89 495 440.29Z"/></g><g fill="#cfe6fa" fill-opacity="0.55"><ellipse cx="463.14" cy="428.24" rx="1.4" ry="0.9"/><ellipse cx="466.63" cy="421.02" rx="1.4" ry="0.9"/><ellipse cx="470.57" cy="415.45" rx="1.4" ry="0.9"/><ellipse cx="476.48" cy="411.59" rx="1.4" ry="0.9"/><ellipse cx="483" cy="409.49" rx="1.4" ry="0.9"/><ellipse cx="489.99" cy="409.61" rx="1.4" ry="0.9"/><ellipse cx="496.47" cy="411.63" rx="1.4" ry="0.9"/><ellipse cx="502.11" cy="415.76" rx="1.4" ry="0.9"/><ellipse cx="506.17" cy="421.15" rx="1.4" ry="0.9"/><ellipse cx="509.8" cy="428.45" rx="1.4" ry="0.9"/><ellipse cx="468.7" cy="429.09" rx="1.4" ry="0.9"/><ellipse cx="466.83" cy="435.31" rx="1.4" ry="0.9"/><ellipse cx="466.78" cy="441.52" rx="1.4" ry="0.9"/><ellipse cx="503.95" cy="428.27" rx="1.4" ry="0.9"/><ellipse cx="504.78" cy="434.31" rx="1.4" ry="0.9"/><ellipse cx="504.28" cy="438.54" rx="1.4" ry="0.9"/><ellipse cx="473.95" cy="427.43" rx="1.4" ry="0.9"/><ellipse cx="478.76" cy="421.13" rx="1.4" ry="0.9"/><ellipse cx="486.08" cy="419.03" rx="1.4" ry="0.9"/><ellipse cx="493.86" cy="420.62" rx="1.4" ry="0.9"/><ellipse cx="498.68" cy="427.55" rx="1.4" ry="0.9"/><ellipse cx="481.14" cy="430.21" rx="1.4" ry="0.9"/><ellipse cx="491.42" cy="430.13" rx="1.4" ry="0.9"/><ellipse cx="477.93" cy="439.18" rx="1.4" ry="0.9"/><ellipse cx="488.97" cy="439.33" rx="1.4" ry="0.9"/></g><path d="M459 445.8 L458.69 432.5 L458.76 430.18 L459.02 427.87 L459.44 425.57 L460.03 423.3 L460.78 421.07 L461.72 418.89 L462.89 416.81 L464.31 414.89 L465.96 413.16 L467.8 411.65 L469.78 410.34 L471.85 409.21 L473.99 408.24 L476.17 407.42 L478.41 406.77 L480.68 406.29 L482.98 406 L485.3 405.9 L487.62 406 L489.92 406.3 L492.18 406.81 L494.4 407.5 L496.54 408.39 L498.6 409.46 L500.56 410.71 L502.4 412.12 L504.11 413.69 L505.68 415.4 L507.09 417.24 L508.34 419.2 L509.41 421.26 L510.3 423.4 L510.99 425.62 L511.5 427.88 L511.8 430.18 L511.9 432.5 L511.2 441.6 L494.6 441.9 L494 445.2 L474.5 445.8Z" fill="none" stroke="#1b5ea6" stroke-width="1.2" stroke-linejoin="round"/><g fill="url(#bcell)" stroke="#1b5ea6" stroke-width="1.5" stroke-linejoin="round"><path d="M596.32 555.55Q593.85 556 591.59 554.7L582.22 549.29Q579.97 547.99 580.76 546.22L580.92 545.86Q581.71 544.09 583.19 542.83L583.49 542.58Q584.97 541.32 586.85 543.12L597.42 553.2Q599.3 555 596.82 555.45Z"/><path d="M601.24 555Q599.3 555 597.42 553.2L587.96 544.18Q586.08 542.38 587.21 540.91L587.44 540.62Q588.57 539.15 590.23 538.31L590.57 538.15Q592.23 537.31 593.63 539.5L602.16 552.81Q603.57 555 601.63 555Z"/><path d="M604.98 555Q603.57 555 602.16 552.81L593.62 539.49Q592.22 537.3 593.67 536.14L593.96 535.91Q595.41 534.74 597.22 534.33L597.58 534.24Q599.39 533.83 600.24 536.28L605.84 552.54Q606.68 555 605.27 555Z"/><path d="M607.88 555Q606.68 555 605.84 552.54L599.75 534.85Q598.9 532.39 600.66 531.57L601.01 531.4Q602.77 530.58 604.71 530.6L605.1 530.61Q607.04 530.63 607.29 533.22L609.08 552.41Q609.32 555 608.12 555Z"/><path d="M610.46 555Q609.32 555 609.08 552.41L607.43 534.76Q607.19 532.17 609.01 531.81L609.37 531.74Q611.19 531.37 612.99 531.83L613.35 531.92Q615.15 532.38 614.77 534.96L612.21 552.43Q611.84 555 610.69 555Z"/><path d="M613.07 555Q611.84 555 612.21 552.43L614.78 534.91Q615.16 532.34 617.01 532.41L617.39 532.43Q619.24 532.51 620.89 533.38L621.21 533.55Q622.85 534.43 621.88 536.84L615.52 552.59Q614.54 555 613.31 555Z"/><path d="M616.04 555Q614.54 555 615.52 552.59L622.44 535.44Q623.42 533.03 625.29 533.57L625.66 533.67Q627.53 534.21 628.98 535.5L629.27 535.76Q630.72 537.05 629.2 539.16L619.35 552.89Q617.84 555 616.34 555Z"/><path d="M619.97 555Q617.84 555 619.35 552.89L628.29 540.43Q629.81 538.32 631.42 539.24L631.74 539.42Q633.35 540.34 634.41 541.87L634.62 542.17Q635.68 543.7 633.7 545.39L624.49 553.31Q622.52 555 620.39 555Z"/><path d="M624.66 555.85Q622.52 555 624.49 553.31L633.76 545.34Q635.73 543.65 637.09 544.93L637.36 545.18Q638.71 546.46 639.38 548.19L639.51 548.54Q640.18 550.28 637.86 551.46L629.55 555.69Q627.23 556.87 625.09 556.02Z"/></g><g fill="#3a7cc0" fill-opacity="0.5"><ellipse cx="590.29" cy="550.51" rx="3" ry="1.5" transform="rotate(-143.17 590.29 550.51)"/><ellipse cx="594.4" cy="546.21" rx="3" ry="1.5" transform="rotate(-129.5 594.4 546.21)"/><ellipse cx="599.41" cy="543" rx="3" ry="1.5" transform="rotate(-115.83 599.41 543)"/><ellipse cx="605.03" cy="541.06" rx="3" ry="1.5" transform="rotate(-102.17 605.03 541.06)"/><ellipse cx="610.95" cy="540.51" rx="3" ry="1.5" transform="rotate(-88.5 610.95 540.51)"/><ellipse cx="616.84" cy="541.37" rx="3" ry="1.5" transform="rotate(-74.83 616.84 541.37)"/><ellipse cx="622.36" cy="543.6" rx="3" ry="1.5" transform="rotate(-61.17 622.36 543.6)"/><ellipse cx="627.19" cy="547.07" rx="3" ry="1.5" transform="rotate(-47.5 627.19 547.07)"/><ellipse cx="631.07" cy="551.58" rx="3" ry="1.5" transform="rotate(-33.83 631.07 551.58)"/></g>
<circle cx="110.5" cy="417.7" r="21.5" fill="#c3e3fa" style="mix-blend-mode:multiply"/>
<circle cx="243.1" cy="548.8" r="21.4" fill="#c3e3fa" style="mix-blend-mode:multiply"/>
<line x1="38" y1="314.6" x2="90" y2="387.5" stroke="#1f6cb4" stroke-width="2"/>
<path d="M93.9 392.9L80.86 385.42L88.6 385.32L91.35 378.09Z" fill="#1f6cb4"/>
<line x1="222.2" y1="718.2" x2="236.9" y2="597" stroke="#1f6cb4" stroke-width="2"/>
<path d="M237.5 591.2L241.77 605.82L236.32 600.93L229.85 604.37Z" fill="#1f6cb4"/>
<g><circle cx="196.7" cy="112.8" r="25" fill="url(#orgLumen)"/><circle cx="196.7" cy="112.8" r="34.6" fill="none" stroke="#e4e6ec" stroke-width="20.2"/><g fill="#e4e6ec" stroke="#a6adc4" stroke-width="1.1"><path d="M194.49 70.26Q194.35 67.66 196.95 67.5L197.7 67.45Q200.3 67.29 202.84 67.86L203.58 68.02Q206.11 68.59 205.57 71.13L202.24 86.78Q201.7 89.33 199.11 89.12L198.04 89.04Q195.45 88.83 195.32 86.24Z"/><path d="M205.57 71.13Q206.11 68.59 208.66 69.11L209.41 69.26Q211.95 69.77 214.26 70.98L214.93 71.33Q217.23 72.53 216.05 74.85L208.78 89.1Q207.6 91.42 205.15 90.55L204.15 90.2Q201.7 89.33 202.24 86.78Z"/><path d="M216.05 74.85Q217.23 72.53 219.56 73.69L220.24 74.03Q222.57 75.19 224.48 76.95L225.04 77.46Q226.96 79.22 225.22 81.15L214.51 93.04Q212.77 94.97 210.62 93.5L209.75 92.89Q207.6 91.42 208.78 89.1Z"/><path d="M225.22 81.15Q226.96 79.22 228.91 80.94L229.48 81.44Q231.42 83.16 232.82 85.36L233.22 86Q234.62 88.2 232.44 89.61L219.01 98.32Q216.83 99.74 215.14 97.76L214.45 96.95Q212.77 94.97 214.51 93.04Z"/><path d="M232.44 89.61Q234.62 88.2 236.05 90.36L236.47 90.99Q237.91 93.16 238.69 95.64L238.92 96.37Q239.69 98.85 237.22 99.65L222 104.59Q219.53 105.39 218.41 103.04L217.95 102.08Q216.83 99.74 219.01 98.32Z"/><path d="M237.22 99.65Q239.69 98.85 240.52 101.31L240.76 102.03Q241.59 104.5 241.7 107.09L241.73 107.85Q241.84 110.45 239.24 110.59L223.26 111.42Q220.67 111.55 220.19 109L220 107.95Q219.53 105.39 222 104.59Z"/><path d="M239.24 110.59Q241.84 110.45 242 113.05L242.05 113.8Q242.21 116.4 241.64 118.94L241.48 119.68Q240.91 122.21 238.37 121.67L222.72 118.34Q220.17 117.8 220.38 115.21L220.46 114.14Q220.67 111.55 223.26 111.42Z"/><path d="M238.37 121.67Q240.91 122.21 240.39 124.76L240.24 125.51Q239.73 128.05 238.52 130.36L238.17 131.03Q236.97 133.33 234.65 132.15L220.4 124.88Q218.08 123.7 218.95 121.25L219.3 120.25Q220.17 117.8 222.72 118.34Z"/><path d="M234.65 132.15Q236.97 133.33 235.81 135.66L235.47 136.34Q234.31 138.67 232.55 140.58L232.04 141.14Q230.28 143.06 228.35 141.32L216.46 130.61Q214.53 128.87 216 126.72L216.61 125.85Q218.08 123.7 220.4 124.88Z"/><path d="M228.35 141.32Q230.28 143.06 228.56 145.01L228.06 145.58Q226.34 147.52 224.14 148.92L223.5 149.32Q221.3 150.72 219.89 148.54L211.18 135.11Q209.76 132.93 211.74 131.24L212.55 130.55Q214.53 128.87 216.46 130.61Z"/><path d="M219.89 148.54Q221.3 150.72 219.14 152.15L218.51 152.57Q216.34 154.01 213.86 154.79L213.13 155.02Q210.65 155.79 209.85 153.32L204.91 138.1Q204.11 135.63 206.46 134.51L207.42 134.05Q209.76 132.93 211.18 135.11Z"/><path d="M209.85 153.32Q210.65 155.79 208.19 156.62L207.47 156.86Q205 157.69 202.41 157.8L201.65 157.83Q199.05 157.94 198.91 155.34L198.08 139.36Q197.95 136.77 200.5 136.29L201.55 136.1Q204.11 135.63 204.91 138.1Z"/><path d="M198.91 155.34Q199.05 157.94 196.45 158.1L195.7 158.15Q193.1 158.31 190.56 157.74L189.82 157.58Q187.29 157.01 187.83 154.47L191.16 138.82Q191.7 136.27 194.29 136.48L195.36 136.56Q197.95 136.77 198.08 139.36Z"/><path d="M187.83 154.47Q187.29 157.01 184.74 156.49L183.99 156.34Q181.45 155.83 179.14 154.62L178.47 154.27Q176.17 153.07 177.35 150.75L184.62 136.5Q185.8 134.18 188.25 135.05L189.25 135.4Q191.7 136.27 191.16 138.82Z"/><path d="M177.35 150.75Q176.17 153.07 173.84 151.91L173.16 151.57Q170.83 150.41 168.92 148.65L168.36 148.14Q166.44 146.38 168.18 144.45L178.89 132.56Q180.63 130.63 182.78 132.1L183.65 132.71Q185.8 134.18 184.62 136.5Z"/><path d="M168.18 144.45Q166.44 146.38 164.49 144.66L163.92 144.16Q161.98 142.44 160.58 140.24L160.18 139.6Q158.78 137.4 160.96 135.99L174.39 127.28Q176.57 125.86 178.26 127.84L178.95 128.65Q180.63 130.63 178.89 132.56Z"/><path d="M160.96 135.99Q158.78 137.4 157.35 135.24L156.93 134.61Q155.49 132.44 154.71 129.96L154.48 129.23Q153.71 126.75 156.18 125.95L171.4 121.01Q173.87 120.21 174.99 122.56L175.45 123.52Q176.57 125.86 174.39 127.28Z"/><path d="M156.18 125.95Q153.71 126.75 152.88 124.29L152.64 123.57Q151.81 121.1 151.7 118.51L151.67 117.75Q151.56 115.15 154.16 115.01L170.14 114.18Q172.73 114.05 173.21 116.6L173.4 117.65Q173.87 120.21 171.4 121.01Z"/><path d="M154.16 115.01Q151.56 115.15 151.4 112.55L151.35 111.8Q151.19 109.2 151.76 106.66L151.92 105.92Q152.49 103.39 155.03 103.93L170.68 107.26Q173.23 107.8 173.02 110.39L172.94 111.46Q172.73 114.05 170.14 114.18Z"/><path d="M155.03 103.93Q152.49 103.39 153.01 100.84L153.16 100.09Q153.67 97.55 154.88 95.24L155.23 94.57Q156.43 92.27 158.75 93.45L173 100.72Q175.32 101.9 174.45 104.35L174.1 105.35Q173.23 107.8 170.68 107.26Z"/><path d="M158.75 93.45Q156.43 92.27 157.59 89.94L157.93 89.26Q159.09 86.93 160.85 85.02L161.36 84.46Q163.12 82.54 165.05 84.28L176.94 94.99Q178.87 96.73 177.4 98.88L176.79 99.75Q175.32 101.9 173 100.72Z"/><path d="M165.05 84.28Q163.12 82.54 164.84 80.59L165.34 80.02Q167.06 78.08 169.26 76.68L169.9 76.28Q172.1 74.88 173.51 77.06L182.22 90.49Q183.64 92.67 181.66 94.36L180.85 95.05Q178.87 96.73 176.94 94.99Z"/><path d="M173.51 77.06Q172.1 74.88 174.26 73.45L174.89 73.03Q177.06 71.59 179.54 70.81L180.27 70.58Q182.75 69.81 183.55 72.28L188.49 87.5Q189.29 89.97 186.94 91.09L185.98 91.55Q183.64 92.67 182.22 90.49Z"/><path d="M183.55 72.28Q182.75 69.81 185.21 68.98L185.93 68.74Q188.4 67.91 190.99 67.8L191.75 67.77Q194.35 67.66 194.49 70.26L195.32 86.24Q195.45 88.83 192.9 89.31L191.85 89.5Q189.29 89.97 188.49 87.5Z"/></g><g fill="#d0d4e1" stroke="#b6bccf" stroke-width="0.6"><ellipse cx="199.43" cy="78.31" rx="3.4" ry="2.1" transform="rotate(-85.48 199.43 78.31)"/><ellipse cx="208.26" cy="80.19" rx="3.4" ry="2.1" transform="rotate(-70.48 208.26 80.19)"/><ellipse cx="216.31" cy="84.29" rx="3.4" ry="2.1" transform="rotate(-55.48 216.31 84.29)"/><ellipse cx="223.02" cy="90.34" rx="3.4" ry="2.1" transform="rotate(-40.48 223.02 90.34)"/><ellipse cx="227.93" cy="97.92" rx="3.4" ry="2.1" transform="rotate(-25.48 227.93 97.92)"/><ellipse cx="230.72" cy="106.51" rx="3.4" ry="2.1" transform="rotate(-10.48 230.72 106.51)"/><ellipse cx="231.19" cy="115.53" rx="3.4" ry="2.1" transform="rotate(4.52 231.19 115.53)"/><ellipse cx="229.31" cy="124.36" rx="3.4" ry="2.1" transform="rotate(19.52 229.31 124.36)"/><ellipse cx="225.21" cy="132.41" rx="3.4" ry="2.1" transform="rotate(34.52 225.21 132.41)"/><ellipse cx="219.16" cy="139.12" rx="3.4" ry="2.1" transform="rotate(49.52 219.16 139.12)"/><ellipse cx="211.58" cy="144.03" rx="3.4" ry="2.1" transform="rotate(64.52 211.58 144.03)"/><ellipse cx="202.99" cy="146.82" rx="3.4" ry="2.1" transform="rotate(79.52 202.99 146.82)"/><ellipse cx="193.97" cy="147.29" rx="3.4" ry="2.1" transform="rotate(94.52 193.97 147.29)"/><ellipse cx="185.14" cy="145.41" rx="3.4" ry="2.1" transform="rotate(109.52 185.14 145.41)"/><ellipse cx="177.09" cy="141.31" rx="3.4" ry="2.1" transform="rotate(124.52 177.09 141.31)"/><ellipse cx="170.38" cy="135.26" rx="3.4" ry="2.1" transform="rotate(139.52 170.38 135.26)"/><ellipse cx="165.47" cy="127.68" rx="3.4" ry="2.1" transform="rotate(154.52 165.47 127.68)"/><ellipse cx="162.68" cy="119.09" rx="3.4" ry="2.1" transform="rotate(169.52 162.68 119.09)"/><ellipse cx="162.21" cy="110.07" rx="3.4" ry="2.1" transform="rotate(184.52 162.21 110.07)"/><ellipse cx="164.09" cy="101.24" rx="3.4" ry="2.1" transform="rotate(199.52 164.09 101.24)"/><ellipse cx="168.19" cy="93.19" rx="3.4" ry="2.1" transform="rotate(214.52 168.19 93.19)"/><ellipse cx="174.24" cy="86.48" rx="3.4" ry="2.1" transform="rotate(229.52 174.24 86.48)"/><ellipse cx="181.82" cy="81.57" rx="3.4" ry="2.1" transform="rotate(244.52 181.82 81.57)"/><ellipse cx="190.41" cy="78.78" rx="3.4" ry="2.1" transform="rotate(259.52 190.41 78.78)"/></g></g>
<g font-family="&quot;Liberation Sans&quot;, sans-serif" fill="#1c1c1c">
<text x="41.5" y="44.8" font-size="23" font-weight="bold" stroke="#1c1c1c" stroke-width="0.9">a</text>
<text x="66.2" y="44.8" font-size="18.7" font-weight="bold" stroke="#1c1c1c" stroke-width="0.6" textLength="257">Genetically engineered cells</text>
<text x="66" y="107.9" font-size="19" font-weight="normal" textLength="52.1">Colon</text>
<text x="66" y="129" font-size="19" font-weight="normal" textLength="76.9">organoid</text>
<text x="275.8" y="92.7" font-size="19" font-weight="normal" textLength="260.5"><tspan font-style="italic">Apc, Kras</tspan> and <tspan font-style="italic">Trp53</tspan> mutations</text>
<text x="275.8" y="113.9" font-size="19" font-weight="normal" textLength="202.9">will arise after exposure</text>
<text x="275.8" y="135" font-size="19" font-weight="normal" textLength="247.9">to blue light and doxycycline</text>
<text x="209.6" y="195" font-size="19" font-weight="normal" textLength="90.3">Growth on</text>
<text x="209.4" y="215.4" font-size="19" font-weight="normal" textLength="83.1">a scaffold</text>
<text x="41.3" y="269.6" font-size="22.5" font-weight="bold" stroke="#1c1c1c" stroke-width="0.9">b</text>
<text x="67" y="270.8" font-size="18.7" font-weight="bold" stroke="#1c1c1c" stroke-width="0.6" textLength="191.3">Tumour cells induced</text>
<text x="67" y="292.2" font-size="18.7" font-weight="bold" stroke="#1c1c1c" stroke-width="0.6" textLength="125.5">in ‘mini-colon’</text>
<text x="405.6" y="270.8" font-size="23" font-weight="bold" stroke="#1c1c1c" stroke-width="0.9">c</text>
<text x="433.2" y="270.8" font-size="18.7" font-weight="bold" stroke="#1c1c1c" stroke-width="0.6" textLength="250.3">Single-cell RNA sequencing</text>
<text x="182.4" y="326.3" font-size="19" font-weight="normal" textLength="117.7">Blue light cue</text>
<text x="182.4" y="347.7" font-size="19" font-weight="normal" textLength="139">and doxycycline</text>
<text x="182.4" y="369.1" font-size="19" font-weight="normal" textLength="143.6">trigger crypt and</text>
<text x="182.4" y="390.5" font-size="19" font-weight="normal" textLength="129.5">lumen tumours</text>
<text x="37.8" y="433.4" font-size="19" font-weight="normal" textLength="48.9">Crypt</text>
<text x="259.4" y="529.7" font-size="19" font-weight="normal" textLength="59.1">Lumen</text>
<text x="361.6" y="508" font-size="19" font-weight="normal" textLength="42">Time</text>
<text x="480.7" y="321" font-size="19" font-weight="normal" textLength="152.1">High in stem cells</text>
<text x="480.7" y="345.9" font-size="19" font-weight="normal" textLength="166.3">High Wnt signalling</text>
<text x="480.7" y="370.8" font-size="19" font-weight="normal" textLength="233.5">Growth-factor independent</text>
<text x="403" y="405.4" font-size="19" font-weight="normal" textLength="65.5">Tumour</text>
<text x="480.3" y="673.6" font-size="19" font-weight="normal" textLength="146.8">Low in stem cells</text>
<text x="480.3" y="698.6" font-size="19" font-weight="normal" textLength="161.7">Low Wnt signalling</text>
<text x="480.3" y="723.6" font-size="19" font-weight="normal" textLength="217.8">Growth-factor dependent</text>
</g>
<text x="662" y="748" font-family="&quot;Liberation Serif&quot;, serif" font-weight="bold" font-size="19" fill="#9d9d9d" stroke="#9d9d9d" stroke-width="0.3">©nature</text>
<line x1="197" y1="173" x2="197" y2="228" stroke="#1c1c1c" stroke-width="1.6"/>
<path d="M197 236.6L191.3 223L197 227.08L202.7 223Z" fill="#1c1c1c"/>
<line x1="360" y1="520.2" x2="410" y2="520.2" stroke="#1c1c1c" stroke-width="1.6"/>
<path d="M417 520.2L403.6 525.6L407.62 520.2L403.6 514.8Z" fill="#1c1c1c"/>
<circle cx="230.4" cy="126.6" r="4.2" fill="none" stroke="#1c1c1c" stroke-width="1"/>
<path d="M271.4 111 Q250 109 237 120" fill="none" stroke="#1c1c1c" stroke-width="1.0"/>
<path d="M233.6 122.4L237.28 115.64L237.52 119.46L241.12 120.76Z" fill="#1c1c1c"/>
<path d="M179.2 385.2 Q152 389 136 401.5" fill="none" stroke="#1c1c1c" stroke-width="1.0"/>
<path d="M131.6 405.5L135.33 398.16L135.7 402.22L139.58 403.47Z" fill="#1c1c1c"/>
<path d="M241 398.5 Q252 455 242.6 515" fill="none" stroke="#1c1c1c" stroke-width="1.0"/>
<path d="M242.2 522.3L239.18 514.64L242.46 517.06L245.97 514.98Z" fill="#1c1c1c"/>
<path d="M541.5 375.8 Q538 395 516 410" fill="none" stroke="#1c1c1c" stroke-width="1.0"/>
<path d="M511.6 413.7L515.33 406.36L515.7 410.42L519.58 411.67Z" fill="#1c1c1c"/>
<path d="M603.5 655.9 Q619 610 611 571" fill="none" stroke="#1c1c1c" stroke-width="1.0"/>
<path d="M610.2 564.3L614.67 571.21L610.98 569.49L607.95 572.22Z" fill="#1c1c1c"/>
</svg>
</body></html>
